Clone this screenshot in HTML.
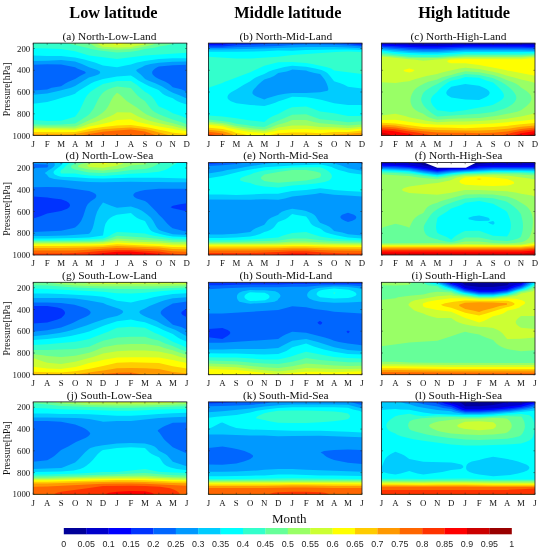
<!DOCTYPE html>
<html><head><meta charset="utf-8"><title>Figure</title>
<style>html,body{margin:0;padding:0;background:#fff}svg{display:block}</style></head>
<body>
<svg width="542" height="550" viewBox="0 0 542 550">
<rect width="542" height="550" fill="#fff"/>
<g font-family="'Liberation Serif', 'Times New Roman', serif" fill="#111">
<text x="113.4" y="17.7" font-size="16.3" font-weight="bold" text-anchor="middle" fill="#000">Low latitude</text>
<text x="287.8" y="17.7" font-size="16.3" font-weight="bold" text-anchor="middle" fill="#000">Middle latitude</text>
<text x="464.1" y="17.7" font-size="16.3" font-weight="bold" text-anchor="middle" fill="#000">High latitude</text>
<g shape-rendering="geometricPrecision">
<rect x="33.2" y="43.1" width="153.6" height="92.4" fill="#0066ff"/>
<path fill="#0099ff" d="M47.2,43.1 186.8,43.1 186.8,64.8 172.8,65.3 158.9,66.5 157.7,66.9 155.1,68.4 153.4,69.9 152.3,71.4 152.1,72.9 152.7,74.4 154.1,75.9 156.1,77.4 158.9,79.1 165.4,81.8 168,83.3 170.1,84.8 172.8,87.2 181,89.3 184.8,90.8 186.8,92 186.8,135.5 33.2,135.5 33.2,90.5 47.2,89.4 51.6,87.8 61.1,86.2 65.7,83.3 68.5,81.8 75.1,79.1 80,75.9 85.9,72.9 84.9,71.4 77.3,68.4 75.1,67.3 61.1,64.6 47.2,64.3 33.2,64.8 33.2,43.1Z"/>
<path fill="#00ccff" d="M47.2,43.1 186.8,43.1 186.8,61.4 172.8,61.8 158.9,62.7 150.6,64 144.9,65.5 142.2,66.9 138.8,68.4 136.1,69.9 136.9,71.4 140.7,74.4 145.1,78.9 148.1,80.4 155.3,83.3 161.7,86.3 169,90.8 172.8,92.7 179.4,95.3 186.8,98.6 186.8,135.5 33.2,135.5 33.2,94.7 47.2,93.4 59.4,90.8 70.9,87.8 75.1,85.9 81.9,81.8 88.9,77.4 94.2,75.9 98.4,74.4 100.2,72.9 99.9,71.4 97.5,69.9 89.1,67.2 81.9,64 75.1,61.5 61.1,60 47.2,60.7 33.2,61.1 33.2,43.1Z"/>
<path fill="#00ffff" d="M47.2,43.1 186.8,43.1 186.8,58.2 172.8,58.2 158.9,59.1 155.3,59.5 144.9,60.9 137,62.5 130.9,64.5 125.5,65.5 117,67.2 103,65.5 94.9,62.5 84.3,59.5 75.1,57.4 61.1,56 47.2,56 33.2,55.6 33.2,43.1ZM130.9,75.5 134.2,77.4 138.5,80.4 144.9,84.1 149.3,86.3 156.8,89.3 158.9,90.3 162.6,93.8 165,95.3 168.5,96.8 172.8,98.2 175,99.7 177.5,101.2 181.2,102.7 186.8,104.4 186.8,135.5 33.2,135.5 33.2,103.7 47.2,101.9 55.5,99.7 61.1,97.9 70.9,95.3 75.1,93.7 76.7,92.3 78.9,90.8 91.2,83.3 94.4,81.8 103,79.1 117,76.4Z"/>
<path fill="#33ffcc" d="M47.2,43.1 186.8,43.1 186.8,52.7 144.9,55.5 117,59.1 89.1,55.4 75.1,51.3 61.1,49.1 47.2,48.4 33.2,48.2 33.2,43.1ZM117,81 130.9,80.9 136.7,84.8 144.9,91.8 148.3,93.8 150.3,95.3 152,96.8 154.4,99.7 157.2,104.2 158.9,106.4 164.5,108.7 167.6,110.2 172.8,113.3 181.4,116.1 186.8,118.5 186.8,135.5 33.2,135.5 33.2,120 47.2,121 61.1,120.7 75.1,116.7 77.9,113.1 79.7,110.2 85.3,98.2 87.2,95.3 90,92.3 91.9,90.8 96.4,87.8 103,84.1Z"/>
<path fill="#66ff99" d="M75.1,43.1 172.8,43.1 171.3,44.6 162.7,46.1 158.9,46.4 155.6,47.6 144.9,49.1 138.7,50.6 130.9,51.7 117,52.4 99.3,50.6 90.8,49.1 89.1,48.2 65.8,43.1ZM117,86.4 130.9,88 137.2,95.3 140.6,98.2 144.9,101.1 150.8,108.7 152.3,110.2 154.3,111.7 158.9,114.2 167.1,117.6 171.2,119.1 180.8,122.1 186.8,124.2 186.8,135.5 33.2,135.5 33.2,124.3 47.2,124.7 61.1,124.5 75.2,123.6 87.1,116.1 89,114.6 90.3,113.1 93.6,108.7 98,99.7 99.7,96.8 102,93.8 103.5,92.3 105.5,90.8 108.3,89.3 112.2,87.8Z"/>
<path fill="#99ff66" d="M103,43.1 155.4,43.1 153.1,44.6 147.8,46.1 140.2,47.6 130.9,49.1 117,49.8 103,48.8 97,47.6 94.1,46.1 91.9,44.6 89.1,43.1ZM117,92.8 118.7,93.8 120.6,95.3 127,101.2 136.4,107.2 144.2,113.1 146.6,114.6 153.4,117.6 158.9,119.6 162.1,120.6 172.8,123.3 186.8,127.2 186.8,135.5 33.2,135.5 33.2,126.2 47.2,126.6 75.1,126.4 79,125.1 95.1,117.6 97.8,116.1 102.2,113.1 105.3,110.2 106.5,108.7 108.5,105.7 111.5,99.7 113.3,96.8 114.5,95.3Z"/>
<path fill="#ccff33" d="M103,43.1 146.7,43.1 144.8,44.6 135.6,46.1 130.9,47.2 117,47.6 103,46.8 101.2,46.1 98.6,44.6 96.8,43.1ZM117,112.3 130.9,112.4 137.2,116.1 140.5,117.6 148.5,120.6 160.6,123.6 167.3,125.1 172.8,126 180.3,128 186.8,129.3 186.8,135.5 33.2,135.5 33.2,127.7 47.2,128 75.1,128.4 81.9,126.6 89.1,123.7 95.4,122.1 99.6,120.6 103,118.9 110.7,116.1 113.7,114.6 116.1,113.1Z"/>
<path fill="#ffff00" d="M117,43.1 127.5,43.1 120.1,44.6 117,44.8 114.7,44.6 108.6,43.1ZM117,120 130.9,119.3 133.8,120.6 138.1,122.1 151.1,125.1 158.9,126.6 172.8,128.8 175.6,129.5 186.8,131.3 186.8,135.5 33.2,135.5 33.2,129.3 75.1,130.1 84.6,128 89.1,126.6 97.4,125.1 103,123.7 110.7,122.1Z"/>
<path fill="#ffcc00" d="M117,125.6 130.9,125.1 144.9,127 150.9,128 158.9,129.8 165.8,131 172.8,132.8 186.8,133.9 186.8,135.5 33.2,135.5 33.2,131.9 61.1,132.2 75.1,132 80.5,131 89.1,129.1 103,127.1Z"/>
<path fill="#ff9900" d="M130.9,127.6 144.9,129.1 147.1,129.5 153.5,131 158.9,132.6 170.3,135.5 33.2,135.5 33.2,134.1 61.1,134.3 75.1,133.9 89.1,131.5 103,129.3 117,128.2Z"/>
<path fill="#ff6600" d="M130.9,129.5 144.9,131.4 152.2,134 157.1,135.5 81.1,135.5 89.1,133.9 103,131.8 117,130.4Z"/>
<path fill="#ff3300" d="M117,135.5 124,135.5Z"/>
</g>
<rect x="33.2" y="43.1" width="153.6" height="92.4" fill="none" stroke="#1a1a1a" stroke-width="0.8"/>
<path d="M33.2,135.5v-1.6M33.2,43.1v1.6M47.2,135.5v-1.6M47.2,43.1v1.6M61.1,135.5v-1.6M61.1,43.1v1.6M75.1,135.5v-1.6M75.1,43.1v1.6M89.1,135.5v-1.6M89.1,43.1v1.6M103,135.5v-1.6M103,43.1v1.6M117,135.5v-1.6M117,43.1v1.6M130.9,135.5v-1.6M130.9,43.1v1.6M144.9,135.5v-1.6M144.9,43.1v1.6M158.9,135.5v-1.6M158.9,43.1v1.6M172.8,135.5v-1.6M172.8,43.1v1.6M186.8,135.5v-1.6M186.8,43.1v1.6M33.2,48.5h1.6M186.8,48.5h-1.6M33.2,70.3h1.6M186.8,70.3h-1.6M33.2,92h1.6M186.8,92h-1.6M33.2,113.8h1.6M186.8,113.8h-1.6M33.2,135.5h1.6M186.8,135.5h-1.6" stroke="#262626" stroke-width="0.5" fill="none"/>
<text x="109.4" y="39.9" font-size="11.4" text-anchor="middle">(a) North-Low-Land</text>
<text x="33.2" y="146.8" font-size="8.8" text-anchor="middle">J</text>
<text x="47.2" y="146.8" font-size="8.8" text-anchor="middle">F</text>
<text x="61.1" y="146.8" font-size="8.8" text-anchor="middle">M</text>
<text x="75.1" y="146.8" font-size="8.8" text-anchor="middle">A</text>
<text x="89.1" y="146.8" font-size="8.8" text-anchor="middle">M</text>
<text x="103" y="146.8" font-size="8.8" text-anchor="middle">J</text>
<text x="117" y="146.8" font-size="8.8" text-anchor="middle">J</text>
<text x="130.9" y="146.8" font-size="8.8" text-anchor="middle">A</text>
<text x="144.9" y="146.8" font-size="8.8" text-anchor="middle">S</text>
<text x="158.9" y="146.8" font-size="8.8" text-anchor="middle">O</text>
<text x="172.8" y="146.8" font-size="8.8" text-anchor="middle">N</text>
<text x="186.8" y="146.8" font-size="8.8" text-anchor="middle">D</text>
<text x="30.2" y="51.5" font-size="8.8" text-anchor="end">200</text>
<text x="30.2" y="73.3" font-size="8.8" text-anchor="end">400</text>
<text x="30.2" y="95" font-size="8.8" text-anchor="end">600</text>
<text x="30.2" y="116.8" font-size="8.8" text-anchor="end">800</text>
<text x="30.2" y="138.5" font-size="8.8" text-anchor="end">1000</text>
<text transform="translate(9.6,89.3) rotate(-90)" font-size="9.7" text-anchor="middle">Pressure[hPa]</text>
<g shape-rendering="geometricPrecision">
<rect x="208.4" y="43.1" width="153.6" height="92.4" fill="#0000ff"/>
<path fill="#0033ff" d="M236.3,43.1 355,43.1 362,44.1 362,135.5 208.4,135.5 208.4,44.8 222.4,44.7Z"/>
<path fill="#0066ff" d="M264.3,44.1 271.2,43.1 341.1,43.1 353.2,44.6 362,45.4 362,135.5 208.4,135.5 208.4,46.4 222.4,46.5 236.3,45.3 256.6,44.6Z"/>
<path fill="#0099ff" d="M278.2,45.9 292.2,44.9 306.1,44.6 320.1,44.6 334.1,44.8 348,45.5 362,46.6 362,135.5 208.4,135.5 208.4,48 222.4,48 236.3,47.2 264.3,46.6Z"/>
<path fill="#00ccff" d="M306.1,47.1 334.1,46.9 348,47.4 362,48.2 362,135.5 208.4,135.5 208.4,49.6 222.4,49.6 264.3,48.6ZM291.2,69.9 286.6,71.4 278.2,73.1 274,75.9 270.6,77.4 264.3,79.5 261.4,81.8 258.1,84.8 253.9,89.3 252.9,90.8 252.4,92.3 252.6,93.8 254.1,95.3 256.9,96.8 264.3,99.5 267.1,98.2 278.2,94.9 285.1,93.8 292.2,92.9 306.1,93 320.1,92.2 327.6,90.8 328.4,89.3 327.7,86.3 326.6,83.3 325.2,80.4 324.2,78.9 321.9,75.9 320.1,74.1 314.6,72.9 308.7,71.4 306.1,70.5 292.2,69.6Z"/>
<path fill="#00ffff" d="M306.1,49.9 334.1,49.4 348,49.5 362,50 362,88.5 348,86.7 344.2,84.8 340.4,83.3 334.1,81.3 330,75.9 327.3,72.9 325,71.4 321.5,69.9 315.2,68.4 306.1,66.7 292.2,65.8 284.4,66.9 273,69.9 268.9,71.4 264.3,74 259.1,75.9 255.7,77.4 253.2,78.9 250.3,81.3 243.8,84.8 236.6,89.3 231.1,92.3 229.2,93.8 228,95.3 227.5,96.8 227.6,98.2 228.7,99.7 230.9,101.2 236.3,103.2 250.3,105 264.3,105.9 270.7,104.2 275.2,102.7 278.6,101.2 283.6,99.7 292.2,96.8 306.1,97.2 313.3,98.2 321,99.7 334.1,103.2 348,105 362,105 362,135.5 208.4,135.5 208.4,51.8 236.3,51.8 264.3,51.3 278.2,50.6 292.2,50.8Z"/>
<path fill="#33ffcc" d="M348,51.6 362,51.9 362,74 334.1,70.4 331.2,68.4 326.1,66.9 312.1,64 306.1,63 292.2,62.1 278.2,62.2 264.3,65.8 250.3,72.2 240.2,75.9 236.3,77.6 228.4,80.4 224.7,81.8 222.4,83.1 208.4,87.7 208.4,56.7 236.3,58.5 250.3,58.5 278.2,56.7 292.2,54.9 335.7,52ZM292.2,107.2 306.1,106.4 313.2,108.7 320.1,111.5 334.1,113.2 348,115.9 362,115.9 362,135.5 208.4,135.5 208.4,115.4 222.4,116.4 236.3,118.2 250.3,120.5 264.3,121.9 267.9,119.1 270.2,117.6 273.1,116.1 278.2,114.1 285,110.2 288.2,108.7Z"/>
<path fill="#66ff99" d="M306.1,114.3 320.1,119.3 334.1,120.5 348,122.3 362,121.3 362,135.5 208.4,135.5 208.4,119.5 222.4,121.1 229.5,122.1 236.3,123.7 246.2,125.1 250.3,125.8 264.3,127.1 271.5,123.6 292.2,114.8Z"/>
<path fill="#99ff66" d="M292.2,119.9 306.1,119.9 313.8,122.1 320.1,123.2 348,125.6 362,124.5 362,135.5 208.4,135.5 208.4,121.5 222.4,123 226,123.6 236.3,125.9 250.3,128.1 264.3,129.4 269.4,128 278.2,124.5 282.4,123.6 287.3,122.1Z"/>
<path fill="#ccff33" d="M212.3,123.6 222.4,124.5 236.3,127.8 250.3,129.9 264.3,131 272.1,129.5 278.2,127.6 285.9,126.6 292.2,125.4 306.1,125.4 320.1,127 334.1,127.3 348,128.1 362,126.8 362,135.5 208.4,135.5 208.4,123.2Z"/>
<path fill="#ffff00" d="M210.3,125.1 222.4,126.2 228.3,128 243.9,131 250.3,132 264.3,133.1 275.4,131 278.2,130.3 292.2,129.2 306.1,129.1 320.1,129.8 334.1,129.6 348,130.1 362,128.5 362,135.5 208.4,135.5 208.4,124.9Z"/>
<path fill="#ffcc00" d="M211.9,128 222.4,129.1 231.3,131 236.3,132.9 243.2,134 248.7,135.5 208.4,135.5 208.4,127.7ZM362,130.5 362,135.5 267.7,135.5 278.2,133.3 292.2,132.6 306.1,132.6 320.1,133.2 334.1,131.9 348,132Z"/>
<path fill="#ff9900" d="M220.6,131 222.4,131.2 227.4,132.5 231.5,134 234.9,135.5 208.4,135.5 208.4,129.8ZM348,133.8 362,132.7 362,135.5 328.7,135.5 334.1,134.6 341.2,134ZM292.2,135.3 307.1,135.5 290.4,135.5Z"/>
<path fill="#ff6600" d="M215.2,132.5 222.4,133.5 227.5,135.5 208.4,135.5 208.4,131.8ZM362,135.1 362,135.5 348,135.5Z"/>
<path fill="#ff3300" d="M208.8,134 217.7,135.5 208.4,135.5 208.4,134Z"/>
</g>
<rect x="208.4" y="43.1" width="153.6" height="92.4" fill="none" stroke="#1a1a1a" stroke-width="0.8"/>
<path d="M208.4,135.5v-1.6M208.4,43.1v1.6M222.4,135.5v-1.6M222.4,43.1v1.6M236.3,135.5v-1.6M236.3,43.1v1.6M250.3,135.5v-1.6M250.3,43.1v1.6M264.3,135.5v-1.6M264.3,43.1v1.6M278.2,135.5v-1.6M278.2,43.1v1.6M292.2,135.5v-1.6M292.2,43.1v1.6M306.1,135.5v-1.6M306.1,43.1v1.6M320.1,135.5v-1.6M320.1,43.1v1.6M334.1,135.5v-1.6M334.1,43.1v1.6M348,135.5v-1.6M348,43.1v1.6M362,135.5v-1.6M362,43.1v1.6M208.4,48.5h1.6M362,48.5h-1.6M208.4,70.3h1.6M362,70.3h-1.6M208.4,92h1.6M362,92h-1.6M208.4,113.8h1.6M362,113.8h-1.6M208.4,135.5h1.6M362,135.5h-1.6" stroke="#262626" stroke-width="0.5" fill="none"/>
<text x="285.8" y="39.9" font-size="11.4" text-anchor="middle">(b) North-Mid-Land</text>
<text x="208.4" y="146.8" font-size="8.8" text-anchor="middle">J</text>
<text x="222.4" y="146.8" font-size="8.8" text-anchor="middle">F</text>
<text x="236.3" y="146.8" font-size="8.8" text-anchor="middle">M</text>
<text x="250.3" y="146.8" font-size="8.8" text-anchor="middle">A</text>
<text x="264.3" y="146.8" font-size="8.8" text-anchor="middle">M</text>
<text x="278.2" y="146.8" font-size="8.8" text-anchor="middle">J</text>
<text x="292.2" y="146.8" font-size="8.8" text-anchor="middle">J</text>
<text x="306.1" y="146.8" font-size="8.8" text-anchor="middle">A</text>
<text x="320.1" y="146.8" font-size="8.8" text-anchor="middle">S</text>
<text x="334.1" y="146.8" font-size="8.8" text-anchor="middle">O</text>
<text x="348" y="146.8" font-size="8.8" text-anchor="middle">N</text>
<text x="362" y="146.8" font-size="8.8" text-anchor="middle">D</text>
<g shape-rendering="geometricPrecision">
<rect x="381.4" y="43.1" width="153.6" height="92.4" fill="#0000cc"/>
<path fill="#0000ff" d="M389.3,44.6 423.3,46 437.3,46 451.2,45.6 465.2,44.9 521,44.9 535,45.3 535,135.5 381.4,135.5 381.4,44.2Z"/>
<path fill="#0033ff" d="M391.6,46.1 409.3,47 423.3,47.5 437.3,47.5 451.2,47.1 465.2,46.4 521,46.4 535,46.9 535,135.5 381.4,135.5 381.4,45.6Z"/>
<path fill="#0066ff" d="M394.5,47.6 409.3,48.5 423.3,49 437.3,49 451.2,48.5 465.2,47.8 521,47.8 535,48.3 535,135.5 381.4,135.5 381.4,46.8Z"/>
<path fill="#0099ff" d="M395.4,49 409.3,49.9 423.3,50.4 437.3,50.4 465.2,49.2 521,49.2 535,49.6 535,135.5 381.4,135.5 381.4,48.1Z"/>
<path fill="#00ccff" d="M395.4,50.5 409.3,51.4 423.3,51.9 437.3,51.9 465.2,50.6 521,50.6 535,50.9 535,135.5 381.4,135.5 381.4,49.3Z"/>
<path fill="#00ffff" d="M394.5,52 409.3,53.1 423.3,53.4 437.3,53.4 465.2,52 535,52 535,135.5 381.4,135.5 381.4,50.6ZM461.3,84.8 451.2,86.7 448.3,89.3 447,90.8 446.3,92.3 446.4,93.8 447.4,95.3 451.2,97.4 465.2,99.4 479.1,99.9 483.4,98.2 486.5,96.8 488.5,95.3 489.5,93.8 489.6,92.3 488.7,90.8 486.8,89.3 483.9,87.8 479.1,85.7 465.2,84Z"/>
<path fill="#33ffcc" d="M381.5,52 395.4,53.7 409.3,54.8 423.3,55.1 437.3,55.1 451.2,54.4 465.2,53.4 521,53.4 535,53.2 535,135.5 381.4,135.5ZM463.7,77.4 459.4,78.9 451.2,80.8 449.2,81.8 446.8,83.3 442.8,86.3 439.5,89.3 437.3,91.7 433.3,95.3 432.1,96.8 431.3,98.2 430.8,99.7 430.9,101.2 431.3,102.7 433,105.7 437.3,110.2 451.2,111.9 465.3,110.2 472.5,108.7 489.4,105.7 493.1,104.7 499.5,101.2 501.7,99.7 503.2,98.2 503.9,96.8 503.9,95.3 503.5,93.8 502.7,92.3 501.6,90.8 499,87.8 495.8,84.8 493.1,82.6 486.3,80.4 479.1,77.7 465.2,76.9Z"/>
<path fill="#66ff99" d="M381.7,53.5 392.8,55 409.3,56.7 423.3,56.9 437.3,56.9 465.2,54.9 521,54.9 535,54.4 535,135.5 381.4,135.5 381.4,53.5ZM463.6,74.4 451.2,77.6 447.3,78.9 443.8,80.4 437.3,84 432.6,86.3 427.6,89.3 425.4,90.8 423.8,92.3 423.3,93.1 422.2,95.3 421.2,98.2 421.2,99.7 421.5,101.2 422.1,102.7 423.8,105.7 426.5,108.7 431.6,113.1 433.8,114.6 436.4,116.1 437.3,116.5 479.1,113.8 493.1,112 504.1,108.7 507.6,107.2 512.3,104.2 513.9,102.7 515.1,101.2 515.9,99.7 516.3,98.2 516.2,96.8 515.8,95.3 515,93.8 512.8,90.8 509.7,87.8 505.8,84.8 501,81.8 498.2,80.4 493.1,78.2 490.4,77.4 479.1,74.9 465.2,74Z"/>
<path fill="#99ff66" d="M395.4,56.4 409.3,57.8 423.3,58.1 437.3,58.1 451.2,57.1 465.2,56.5 521,56.5 535,55.6 535,135.5 381.4,135.5 381.4,55.2ZM464.6,71.4 457.8,72.9 451.2,74.9 446.9,75.9 441.7,77.4 437.3,79.4 428.3,81.8 424.8,83.3 419,86.3 416.8,87.8 415,89.3 413.7,90.8 412,93.8 410.9,96.8 410.6,98.2 410.4,99.7 410.7,102.7 411.8,105.7 412.7,107.2 414,108.7 415.9,110.2 418.3,111.7 423.3,113.8 426.5,116.1 429.3,117.6 434.1,119.1 437.3,119.7 451.2,118.7 479.1,117.9 495.6,116.1 503.6,114.6 517,111.7 521,110.2 527,105.7 529.9,102.7 530.8,101.2 531.3,99.7 531.5,98.2 531.2,96.8 530.6,95.3 529.5,93.8 528,92.3 526.1,90.8 521,87.6 519.7,86.3 517.7,84.8 515.1,83.3 511.5,81.8 507.1,80.3 500.6,77.4 493.1,74.9 479.1,72.2 465.2,71.3Z"/>
<path fill="#ccff33" d="M381.9,56.5 409.3,59.3 413.5,59.5 423.3,60.7 437.3,59.6 451.2,58.2 465.2,57.5 521,57.5 535,56.7 535,83.1 531.2,81.8 521,79.5 519.5,78.9 514.1,77.4 507.1,75.8 503.4,74.4 498.4,72.9 493.1,71.7 479.1,69.1 465.2,67.7 459.8,68.4 446,71.4 440.2,72.9 437.3,74 426.6,75.9 415.6,78.9 411.1,80.4 409.3,81.3 404,81.8 395.4,83.1 381.4,82.2 381.4,56.5ZM535,112.9 535,135.5 381.4,135.5 381.4,115.5 395.4,113.7 405.2,116.1 409.9,117.6 423.3,120.1 425.1,120.6 437.3,122.3 451.2,121.6 465.2,121.6 479.1,121 493.1,120.1 507.1,118.7 521,116.5 530,114.6Z"/>
<path fill="#ffff00" d="M535,58 535,75.8 528.4,74.4 507.1,70.4 505.6,69.9 498,68.4 479.1,65 465.2,63.2 451.2,63.3 448.5,62.5 447,61 450.4,59.5 451.2,59.4 465.2,59.1 521,59.2ZM409.3,68.4 414.6,69.9 413,71.4 409.3,72.4 404.6,71.4 403.4,69.9ZM395.4,119.7 410.3,122.1 423.3,123.8 437.3,124.8 465.2,124.7 493.1,123.4 521,121 535,119.2 535,135.5 381.4,135.5 381.4,120.1Z"/>
<path fill="#ffcc00" d="M395.4,123.4 423.3,126.9 437.3,127.5 451.2,127.7 465.2,128.2 493.1,127 507.1,125.9 521,124.3 535,123 535,135.5 381.4,135.5 381.4,122.8Z"/>
<path fill="#ff9900" d="M388.2,125.1 395.4,125.5 409.3,127.7 423.3,129.2 437.3,130 465.2,130.6 479.1,130.6 493.1,130 507.1,128.8 521,126.8 535,125.5 535,135.5 381.4,135.5 381.4,124.7Z"/>
<path fill="#ff6600" d="M382.9,126.6 395.4,127.4 409.3,129.7 423.3,131.3 437.3,132.4 451.2,132.8 465.2,132.8 479.1,133.3 493.1,132.8 507.1,131.4 521,129 535,127.5 535,135.5 381.4,135.5 381.4,126.5Z"/>
<path fill="#ff3300" d="M395.4,129.2 409.3,131.5 416.7,132.5 432.6,135.5 381.4,135.5 381.4,128.3ZM535,129.3 535,135.5 500.1,135.5 507.1,134.2 513.2,132.5 520.7,131Z"/>
<path fill="#ff0000" d="M392.8,131 400.9,132.5 410.6,134 414.9,135.5 381.4,135.5 381.4,130.1ZM535,131 535,135.5 513.1,135.5 521,133.2Z"/>
<path fill="#cc0000" d="M381.9,132.5 388.8,134 391.9,135.5 381.4,135.5 381.4,132.5ZM535,133.2 535,135.5 523.8,135.5Z"/>
</g>
<rect x="381.4" y="43.1" width="153.6" height="92.4" fill="none" stroke="#1a1a1a" stroke-width="0.8"/>
<path d="M381.4,135.5v-1.6M381.4,43.1v1.6M395.4,135.5v-1.6M395.4,43.1v1.6M409.3,135.5v-1.6M409.3,43.1v1.6M423.3,135.5v-1.6M423.3,43.1v1.6M437.3,135.5v-1.6M437.3,43.1v1.6M451.2,135.5v-1.6M451.2,43.1v1.6M465.2,135.5v-1.6M465.2,43.1v1.6M479.1,135.5v-1.6M479.1,43.1v1.6M493.1,135.5v-1.6M493.1,43.1v1.6M507.1,135.5v-1.6M507.1,43.1v1.6M521,135.5v-1.6M521,43.1v1.6M535,135.5v-1.6M535,43.1v1.6M381.4,48.5h1.6M535,48.5h-1.6M381.4,70.3h1.6M535,70.3h-1.6M381.4,92h1.6M535,92h-1.6M381.4,113.8h1.6M535,113.8h-1.6M381.4,135.5h1.6M535,135.5h-1.6" stroke="#262626" stroke-width="0.5" fill="none"/>
<text x="458.5" y="39.9" font-size="11.4" text-anchor="middle">(c) North-High-Land</text>
<text x="381.4" y="146.8" font-size="8.8" text-anchor="middle">J</text>
<text x="395.4" y="146.8" font-size="8.8" text-anchor="middle">F</text>
<text x="409.3" y="146.8" font-size="8.8" text-anchor="middle">M</text>
<text x="423.3" y="146.8" font-size="8.8" text-anchor="middle">A</text>
<text x="437.3" y="146.8" font-size="8.8" text-anchor="middle">M</text>
<text x="451.2" y="146.8" font-size="8.8" text-anchor="middle">J</text>
<text x="465.2" y="146.8" font-size="8.8" text-anchor="middle">J</text>
<text x="479.1" y="146.8" font-size="8.8" text-anchor="middle">A</text>
<text x="493.1" y="146.8" font-size="8.8" text-anchor="middle">S</text>
<text x="507.1" y="146.8" font-size="8.8" text-anchor="middle">O</text>
<text x="521" y="146.8" font-size="8.8" text-anchor="middle">N</text>
<text x="535" y="146.8" font-size="8.8" text-anchor="middle">D</text>
<g shape-rendering="geometricPrecision">
<rect x="33.2" y="162.6" width="153.6" height="92.4" fill="#0033ff"/>
<path fill="#0066ff" d="M47.2,162.6 186.8,162.6 186.8,203.3 180.1,204.3 172.8,205.8 170.6,207.3 172.8,208.2 175,208.8 186.8,211.2 186.8,255 33.2,255 33.2,218.4 40.4,216.3 47.2,213.4 61.1,211.1 67.2,208.8 69.2,207.3 70,205.8 69.8,204.3 68.7,202.8 66.5,201.3 61.1,199.2 53.8,198.4 47.2,197.4 33.2,196.5 33.2,162.6Z"/>
<path fill="#0099ff" d="M47.2,162.6 186.8,162.6 186.8,188.8 158.9,188.8 144.9,190 140.1,190.9 135.3,192.4 133.6,193.9 133.3,195.4 134.3,196.9 136.8,198.4 144.9,201.1 147.5,202.8 156.4,211.8 158.9,214.7 162.1,217.7 167.4,223.7 170.6,226.7 172.6,228.2 186.8,231.8 186.8,255 33.2,255 33.2,231.9 61.1,230.7 72.5,228.2 75.1,227.4 77.7,225.2 79.1,223.7 81.2,220.7 83.2,216.3 86.1,207.3 87.7,204.3 90.8,201.3 94.9,198.4 96.1,196.9 96.3,195.4 95.5,193.9 93,192.4 89.1,191 68,187.9 61.1,187.3 47.2,187 33.2,187.3 33.2,167.9 47.2,167.5 47.7,167.1 48.4,165.6 47.2,164.4 33.2,164 33.2,162.6Z"/>
<path fill="#00ccff" d="M61.1,162.6 186.8,162.6 186.8,182.3 172.8,182.3 158.9,181.9 144.9,181.9 130.9,181.7 103,182.3 89.1,181.9 75.1,181 61.1,179.8 54.2,179 49.2,177.5 47.8,176 47.2,175 44.8,173 48.9,170.1 51.5,168.6 53.4,167.1 54.7,165.6 54.8,164.1 54.1,162.6ZM103,202.4 111.1,205.8 117,207.7 130.9,206.4 137.8,208.8 141,210.3 143.4,211.8 147.4,214.8 150.8,217.7 153,220.7 156.3,226.7 157.4,228.2 158.9,229.8 162.5,231.2 172.8,234.3 186.8,235.1 186.8,255 33.2,255 33.2,236.1 47.2,236.1 66,235.6 87.3,234.1 89.1,233.8 90.2,232.6 91.2,231.2 92.6,228.2 93.5,225.2 95.6,216.3 97.1,211.8 99.5,207.3Z"/>
<path fill="#00ffff" d="M75.1,162.6 186.8,162.6 186.8,178.4 158.9,177.8 130.9,177.8 103,178.6 89.1,178.3 75.1,177.3 61.1,176.8 58.2,176 54.7,174.5 53.5,173 53.7,171.5 55,170.1 61,165.6 63.7,162.6ZM130.9,213 134.7,216.3 136.8,217.7 139.7,219.2 144.9,221.1 145.7,222.2 149.1,228.2 150.1,229.7 151.8,231.2 154.8,232.6 160,234.1 166.6,235.6 172.8,236.6 186.8,237.1 186.8,255 33.2,255 33.2,238.4 47.2,238.4 75.1,238 89.1,237.4 92.8,237.1 103,235.6 104.6,226.7 105.5,223.7 107.4,220.7 108.7,219.2 110.5,217.7 113,216.3 116.8,214.8Z"/>
<path fill="#33ffcc" d="M75.1,162.6 177.5,162.6 175.5,164.1 172.8,165.5 168.1,168.6 165,170.1 158.9,171.8 146.4,173 130.9,173.7 122.5,174.5 103,176 89.1,175.5 80.8,174.5 75.1,173.6 61.1,173.4 60.7,173 60.4,171.5 61.1,170.1 63.4,168.6 66.3,165.6 68.4,164.1 70,162.6ZM117,231.9 127.8,232.6 144.9,233.4 146.4,234.1 152.5,235.6 162.2,237.1 172.8,238.4 186.8,238.8 186.8,255 33.2,255 33.2,239.9 61.1,239.8 75.1,239.7 89.1,239.3 103,238.4 107.1,237.1 110.1,235.6 112.4,234.1 115.8,232.6Z"/>
<path fill="#66ff99" d="M75.1,163.5 77.1,162.6 161.7,162.6 158,164.1 155.4,165.6 152.3,167.1 147.4,168.6 144.9,169.1 130.9,170 117,172 103,173.1 89.1,172.4 83.9,171.5 75.1,169.6 72.5,168.6 70.8,167.1 71.5,165.6ZM117,235.7 144.9,237.5 172.8,240.2 186.8,240.4 186.8,255 33.2,255 33.2,241.1 61.1,241.1 89.1,240.8 103,240.2 109.4,238.6 113.7,237.1Z"/>
<path fill="#99ff66" d="M89.1,162.6 147.7,162.6 144.9,164.5 130.9,165.5 126.5,167.1 120,168.6 117,169.1 103,170.5 89.1,169.5 84.2,168.6 78.2,167.1 78,165.6 81.5,164.1 87.1,162.6ZM117,238.4 142.8,240.1 158.9,240.8 172.8,241.9 186.8,242.1 186.8,255 33.2,255 33.2,242.2 89.1,242 103,241.5 111.2,240.1Z"/>
<path fill="#ccff33" d="M89.1,164.1 94.4,162.6 124.5,162.6 121.8,164.1 117,165.8 103,167.7 89.1,166.9 86.9,165.6ZM117,240.6 130.9,241.5 158.9,242.6 172.8,243.5 186.8,243.7 186.8,255 33.2,255 33.2,243.3 89.1,243.1 103,242.6 111.9,241.6Z"/>
<path fill="#ffff00" d="M103,162.6 110,162.6 103,164.3 102.2,164.1 101,162.6ZM117,242.4 130.9,243.3 158.9,244.2 172.8,245.2 186.8,245.4 186.8,255 33.2,255 33.2,244.5 89.1,244.3 103,243.9Z"/>
<path fill="#ffcc00" d="M117,244.2 144.9,245.5 158.9,245.9 172.8,247 186.8,247.2 186.8,255 33.2,255 33.2,246.1 61.1,246.1 89.1,245.7 103,245.4Z"/>
<path fill="#ff9900" d="M89.1,247.5 103,247 117,246.1 158.9,247.5 172.8,249 186.8,249.3 186.8,255 33.2,255 33.2,248.1 61.1,248.1Z"/>
<path fill="#ff6600" d="M103,248.8 117,248 130.9,248.3 158.9,249.4 172.8,251.2 186.8,251.7 186.8,255 33.2,255 33.2,250.6 61.1,250.6 75.1,250.4Z"/>
<path fill="#ff3300" d="M117,249.9 130.9,249.9 158.9,251.5 172.8,253.7 186.8,254.4 186.8,255 33.2,255 33.2,253.4 61.1,253.4 75.1,253 89.1,252.1 103,250.8Z"/>
<path fill="#ff0000" d="M117,251.8 130.9,251.6 137,252 154.8,253.5 158.9,254.1 162.4,255 84.4,255Z"/>
</g>
<rect x="33.2" y="162.6" width="153.6" height="92.4" fill="none" stroke="#1a1a1a" stroke-width="0.8"/>
<path d="M33.2,255v-1.6M33.2,162.6v1.6M47.2,255v-1.6M47.2,162.6v1.6M61.1,255v-1.6M61.1,162.6v1.6M75.1,255v-1.6M75.1,162.6v1.6M89.1,255v-1.6M89.1,162.6v1.6M103,255v-1.6M103,162.6v1.6M117,255v-1.6M117,162.6v1.6M130.9,255v-1.6M130.9,162.6v1.6M144.9,255v-1.6M144.9,162.6v1.6M158.9,255v-1.6M158.9,162.6v1.6M172.8,255v-1.6M172.8,162.6v1.6M186.8,255v-1.6M186.8,162.6v1.6M33.2,168h1.6M186.8,168h-1.6M33.2,189.8h1.6M186.8,189.8h-1.6M33.2,211.5h1.6M186.8,211.5h-1.6M33.2,233.3h1.6M186.8,233.3h-1.6M33.2,255h1.6M186.8,255h-1.6" stroke="#262626" stroke-width="0.5" fill="none"/>
<text x="109.4" y="159.4" font-size="11.4" text-anchor="middle">(d) North-Low-Sea</text>
<text x="33.2" y="266.3" font-size="8.8" text-anchor="middle">J</text>
<text x="47.2" y="266.3" font-size="8.8" text-anchor="middle">F</text>
<text x="61.1" y="266.3" font-size="8.8" text-anchor="middle">M</text>
<text x="75.1" y="266.3" font-size="8.8" text-anchor="middle">A</text>
<text x="89.1" y="266.3" font-size="8.8" text-anchor="middle">M</text>
<text x="103" y="266.3" font-size="8.8" text-anchor="middle">J</text>
<text x="117" y="266.3" font-size="8.8" text-anchor="middle">J</text>
<text x="130.9" y="266.3" font-size="8.8" text-anchor="middle">A</text>
<text x="144.9" y="266.3" font-size="8.8" text-anchor="middle">S</text>
<text x="158.9" y="266.3" font-size="8.8" text-anchor="middle">O</text>
<text x="172.8" y="266.3" font-size="8.8" text-anchor="middle">N</text>
<text x="186.8" y="266.3" font-size="8.8" text-anchor="middle">D</text>
<text x="30.2" y="171" font-size="8.8" text-anchor="end">200</text>
<text x="30.2" y="192.8" font-size="8.8" text-anchor="end">400</text>
<text x="30.2" y="214.5" font-size="8.8" text-anchor="end">600</text>
<text x="30.2" y="236.3" font-size="8.8" text-anchor="end">800</text>
<text x="30.2" y="258" font-size="8.8" text-anchor="end">1000</text>
<text transform="translate(9.6,208.8) rotate(-90)" font-size="9.7" text-anchor="middle">Pressure[hPa]</text>
<g shape-rendering="geometricPrecision">
<rect x="208.4" y="162.6" width="153.6" height="92.4" fill="#0033ff"/>
<path fill="#0066ff" d="M222.4,163.1 225.9,162.6 362,162.6 362,255 208.4,255 208.4,164Z"/>
<path fill="#0099ff" d="M236.3,164 245.6,162.6 352.7,162.6 362,163.8 362,255 208.4,255 208.4,165.9 222.4,165.3ZM346.4,213.3 342.1,214.8 340.5,216.3 340.5,217.7 341.9,219.2 344.8,220.7 348,222 352.4,220.7 355.3,219.2 356.3,217.7 356,216.3 354,214.8 348,212.8Z"/>
<path fill="#00ccff" d="M264.3,164 278.2,162.6 327.1,162.6 334.1,163.6 341.2,165.6 348,168.2 362,170.8 362,196.6 348,195.6 334.1,194.8 320.1,192.9 315,193.9 306.1,195.1 292.2,196.5 284.9,198.4 278.2,199.8 264.3,199.3 250.3,199.7 208.4,199.4 208.4,173.6 222.4,171.3 227.2,170.1 236.3,168.7 245.2,167.1ZM292.2,208.8 302.9,210.3 306.1,211 311.6,213.3 314.1,214.8 315.6,216.3 318.5,220.7 320.1,222.8 326.4,225.2 329.4,226.7 331.3,228.2 334.1,231.1 342.3,232.6 348,234.3 362,235.6 362,255 208.4,255 208.4,234.5 222.4,234.5 231.1,234.1 236.3,233.8 250.3,231.9 253.1,229.7 255.7,228.2 264.3,224.7 267.3,220.7 268.9,219.2 271.1,217.7 278.2,214.7 279.7,213.3 281.9,211.8 286,210.3Z"/>
<path fill="#00ffff" d="M292.2,165.5 320.1,164.5 326.1,165.6 331.6,167.1 334.1,168.3 338.7,170.1 344.8,171.5 348,172.6 350.1,173 362,174.6 362,191.7 347.4,190.9 334.1,189.9 331.4,189.4 320.1,188.2 306.1,190 292.2,191 284.1,192.4 278.2,193.7 264.3,193.7 250.3,194.5 236.3,194.9 222.4,194.5 208.4,194.5 208.4,178.3 222.4,176 240.3,171.5 250.3,169.5 264.3,167.3ZM292.2,213.9 295.4,214.8 306.1,216.6 308.3,219.2 311,223.7 312.6,225.2 315.4,226.7 320.1,228.4 322,229.7 323.6,231.2 326,232.6 331,234.1 337.3,235.6 345.2,237.1 348,237.5 362,238.4 362,255 208.4,255 208.4,238 222.4,238 236.3,237.6 250.3,236.6 255.2,235.6 260,234.1 264.3,232 267.2,231.2 270.7,229.7 272.9,228.2 274.4,226.7 276.6,223.7 278.2,222 285.3,219.2 287.7,217.7Z"/>
<path fill="#33ffcc" d="M292.2,167.6 306.1,167.3 320.1,167.3 323.6,168.6 326.5,170.1 328.7,171.5 330.3,173 331.4,174.5 331.9,176 331.7,177.5 330.9,179 328.9,180.5 324.5,182 315.8,183.5 306.1,184.6 292.2,185.6 278.2,187.4 264.3,186.4 255.6,185 251.5,183.5 250.3,182.9 244.6,182 240.3,180.5 239.8,179 241.7,177.5 245.6,176 250.3,174.6 253.8,173 259.4,171.5 264.3,170.6 268.2,170.1ZM306.1,232 311.9,234.1 320.1,236.5 322.7,237.1 332.7,238.6 348,239.8 362,240.2 362,255 208.4,255 208.4,240.2 236.3,240 250.3,239.4 278.2,237.4 283,235.6 292.2,232.9Z"/>
<path fill="#66ff99" d="M292.2,170 306.3,170.1 315.6,171.5 320.1,172.8 321.1,174.5 320.9,176 320.1,177.3 319.7,177.5 313.6,179 306.1,180.4 278.2,182.8 271,182 264.3,180.9 261.3,179 260.9,177.5 262.4,176 264.4,174.5 278.2,171.9ZM292.2,238.4 306.1,238.4 318.9,240.1 334.1,241.1 362,241.7 362,255 208.4,255 208.4,241.7 236.3,241.7 264.3,241.1 278.2,240.5 282.4,240.1Z"/>
<path fill="#99ff66" d="M292.2,241.5 306.1,241.5 320.1,242.3 334.1,242.7 362,243 362,255 208.4,255 208.4,243 264.3,242.8 278.2,242.4Z"/>
<path fill="#ccff33" d="M222.4,244 264.3,244 278.2,243.8 292.2,243.3 306.1,243.3 320.1,243.8 348,244.2 362,244.2 362,255 208.4,255 208.4,244Z"/>
<path fill="#ffff00" d="M222.4,245.2 278.2,245.2 292.2,244.8 306.1,244.8 320.1,245.2 362,245.5 362,255 208.4,255 208.4,245.2Z"/>
<path fill="#ffcc00" d="M222.4,246.6 278.2,246.6 292.2,246.2 306.1,246.2 334.1,246.8 362,247 362,255 208.4,255 208.4,246.6Z"/>
<path fill="#ff9900" d="M222.4,248.5 278.2,248.3 292.2,247.7 306.1,247.7 334.1,248.6 362,248.8 362,255 208.4,255 208.4,248.5Z"/>
<path fill="#ff6600" d="M264.3,250.3 278.2,250.1 292.2,249.4 306.1,249.4 334.1,250.6 362,250.8 362,255 208.4,255 208.4,250.6 250.3,250.6Z"/>
<path fill="#ff3300" d="M292.2,251.2 306.1,251.2 320.1,252.3 334.1,253 348,253.4 362,253.4 362,255 208.4,255 208.4,253 250.3,253 278.2,252.1Z"/>
<path fill="#ff0000" d="M292.2,253.4 306.1,253.4 316.6,255 271.2,255Z"/>
</g>
<rect x="208.4" y="162.6" width="153.6" height="92.4" fill="none" stroke="#1a1a1a" stroke-width="0.8"/>
<path d="M208.4,255v-1.6M208.4,162.6v1.6M222.4,255v-1.6M222.4,162.6v1.6M236.3,255v-1.6M236.3,162.6v1.6M250.3,255v-1.6M250.3,162.6v1.6M264.3,255v-1.6M264.3,162.6v1.6M278.2,255v-1.6M278.2,162.6v1.6M292.2,255v-1.6M292.2,162.6v1.6M306.1,255v-1.6M306.1,162.6v1.6M320.1,255v-1.6M320.1,162.6v1.6M334.1,255v-1.6M334.1,162.6v1.6M348,255v-1.6M348,162.6v1.6M362,255v-1.6M362,162.6v1.6M208.4,168h1.6M362,168h-1.6M208.4,189.8h1.6M362,189.8h-1.6M208.4,211.5h1.6M362,211.5h-1.6M208.4,233.3h1.6M362,233.3h-1.6M208.4,255h1.6M362,255h-1.6" stroke="#262626" stroke-width="0.5" fill="none"/>
<text x="285.8" y="159.4" font-size="11.4" text-anchor="middle">(e) North-Mid-Sea</text>
<text x="208.4" y="266.3" font-size="8.8" text-anchor="middle">J</text>
<text x="222.4" y="266.3" font-size="8.8" text-anchor="middle">F</text>
<text x="236.3" y="266.3" font-size="8.8" text-anchor="middle">M</text>
<text x="250.3" y="266.3" font-size="8.8" text-anchor="middle">A</text>
<text x="264.3" y="266.3" font-size="8.8" text-anchor="middle">M</text>
<text x="278.2" y="266.3" font-size="8.8" text-anchor="middle">J</text>
<text x="292.2" y="266.3" font-size="8.8" text-anchor="middle">J</text>
<text x="306.1" y="266.3" font-size="8.8" text-anchor="middle">A</text>
<text x="320.1" y="266.3" font-size="8.8" text-anchor="middle">S</text>
<text x="334.1" y="266.3" font-size="8.8" text-anchor="middle">O</text>
<text x="348" y="266.3" font-size="8.8" text-anchor="middle">N</text>
<text x="362" y="266.3" font-size="8.8" text-anchor="middle">D</text>
<g shape-rendering="geometricPrecision">
<rect x="381.4" y="162.6" width="153.6" height="92.4" fill="#000099"/>
<path fill="#0000cc" d="M395.4,162.6 409.3,162.6 419.6,164.1 423.9,165.6 433.2,167.1 437.3,168.6 451.2,166.9 465.2,167.3 466.3,167.1 470.5,165.6 479.1,164 493.1,162.6 535,162.6 535,255 381.4,255 381.4,162.6Z"/>
<path fill="#0000ff" d="M395.4,164.7 409.3,165.4 420.1,167.1 428.3,168.6 437.3,169.8 451.2,168.7 465.2,168.6 474.5,167.1 479.1,166.1 493.1,165.4 535,165.4 535,255 381.4,255 381.4,164.3Z"/>
<path fill="#0033ff" d="M395.4,166.1 409.3,166.9 423.3,169 437.3,170.9 451.2,169.6 465.2,169.3 472.8,168.6 479.1,167.6 493.1,166.9 535,166.9 535,255 381.4,255 381.4,165.8Z"/>
<path fill="#0066ff" d="M387,167.1 395.4,167.3 409.3,168 423.3,170.2 437.3,172 451.2,170.6 465.2,170 479.1,168.7 493.1,168 535,168 535,255 381.4,255 381.4,166.9Z"/>
<path fill="#0099ff" d="M395.4,168.4 409.3,169.1 423.3,171.3 437.3,173.1 451.2,171.5 493.1,169.1 535,169.1 535,255 381.4,255 381.4,168Z"/>
<path fill="#00ccff" d="M395.4,169.5 409.3,170.2 423.3,172.4 437.3,174.2 451.2,172.4 464,171.5 493.1,170 521,170 535,170.2 535,255 381.4,255 381.4,169.1Z"/>
<path fill="#00ffff" d="M395.4,170.6 409.3,171.3 423.3,173.5 437.3,175.3 454.2,173 465.2,172.2 493.1,170.9 521,170.9 535,171.3 535,255 381.4,255 381.4,170.2ZM473.1,216.3 468.4,217.7 468.7,219.2 475.5,220.7 479.1,221.1 489.2,220.7 489.8,219.2 488.5,217.7 483,216.3 479.1,215.5ZM488,222.2 490.3,223.7 493.1,224.8 494.4,223.7 494.4,222.2 493.1,221Z"/>
<path fill="#33ffcc" d="M391,171.5 409.3,172.5 422.8,174.5 437.3,176.4 451.2,174.2 465.2,173 479.1,172.6 493.1,171.9 521,171.9 535,172.4 535,255 381.4,255 381.4,171.3ZM477.2,201.3 465.2,202.8 462.7,204.3 459.2,205.8 451.2,208.4 446.7,211.8 439.4,216.3 437.6,217.7 437.3,218.5 436.3,223.7 436,226.7 436.1,228.2 436.7,231.2 437.3,232.8 439.2,234.1 446.8,237.1 451.2,239.7 454.2,237.1 456.2,235.6 461.5,232.6 465.2,230.9 479.1,230.7 493.1,235.7 507.1,236.4 508.7,234.1 510,231.2 510.7,228.2 510.9,225.2 510.6,222.2 509.9,219.2 508.9,216.3 507.1,212 504.9,210.3 493.1,203.8 480.6,201.3 479.1,201.1Z"/>
<path fill="#66ff99" d="M395.4,173 409.3,173.9 424.2,176 437.3,177.5 451.2,175.4 465.2,173.8 479.1,173.5 493.1,172.8 521,173 535,173.7 535,255 381.4,255 381.4,172.5ZM464.9,198.4 455.4,201.3 447.2,204.3 443.7,205.8 437.3,209.2 433.8,211.8 432.2,213.3 430.8,214.8 428.7,217.7 425,223.7 424.3,225.2 423.8,226.7 423.9,229.7 424.8,232.6 425.6,234.1 427,235.6 429.5,237.1 434,238.6 437.3,239.3 439.3,240.1 446.5,241.6 451.2,242 454.1,241.6 459.8,240.1 465.2,237.5 479.1,237.5 484.1,238.6 493.1,240.2 507.1,241.1 512.8,240.1 518.1,238.6 520.6,237.1 521.3,235.6 522.2,232.6 522.7,229.7 523,226.7 522.9,223.7 522.5,220.7 521.1,214.8 520.3,213.3 517.9,210.3 514.7,207.3 510.8,204.3 507.1,202 505.5,201.3 500.2,199.9 493.1,198.3 479.1,197.4Z"/>
<path fill="#99ff66" d="M383.7,174.5 409.3,176 418.7,177.5 437.3,179.2 447.9,177.5 455.2,176 465.2,174.8 493.1,173.9 507.1,174.1 520,174.5 535,175.6 535,255 381.4,255 381.4,243.2 437.3,242.9 451.2,243.5 456.5,243.1 465.2,241.5 479.1,241.5 493.1,242.9 507.1,243.4 514.1,243.1 521,242.3 523.6,241.6 526.6,240.1 528.4,238.6 529.5,237.1 530.8,234.1 532.1,229.7 532.6,226.7 532.9,222.2 532.7,217.7 532,214.8 530.9,211.8 528.9,208.8 527.5,207.3 525.8,205.8 523.6,204.3 516.5,199.9 513.1,198.4 507.1,196.5 500,195.4 493.1,194.6 479.1,194.2 465.2,194.6 455.6,196.9 451.2,198.3 444.8,199.9 440.5,201.3 437.3,202.8 432.4,204.3 429.2,205.8 427.2,207.3 425.9,208.8 423.3,212.9 419.4,214.8 417,216.3 415.2,217.7 413.8,219.2 411.9,222.2 409.3,227.8 407,226.7 401.9,225.2 395.4,223.8 384.7,226.7 381.4,228.3 381.4,174.5Z"/>
<path fill="#ccff33" d="M465.2,175.9 479.1,175.4 493.1,175.2 507.1,175.8 510.8,176 535,179.2 535,196.5 531.8,195.4 521,193.7 515.6,192.4 507.1,191.3 479.1,190.1 465.2,190.1 459.3,190.9 451.2,192.8 437.3,194.7 409.3,193 402.9,190.9 401.9,189.4 404,187.9 409.3,186.4 431.4,183.5 437.3,182.9 449.7,180.5 451.2,180.1 453.1,179 456.8,177.5ZM535,241.7 535,255 381.4,255 381.4,244.6 437.3,244.4 451.2,244.6 465.2,243.9 493.1,244.6 521,244.4 529.8,243.1Z"/>
<path fill="#ffff00" d="M465.2,177.4 479.1,176.5 494.3,177.5 507.1,179.1 511.2,180.5 514,182 514.1,183.5 510.3,185 507.1,185.5 493.1,185.9 479.1,185.5 465.2,184.7 461.2,183.5 459.4,182 459.8,180.5 461.7,179ZM535,243.8 535,255 381.4,255 381.4,245.5 451.2,245.5 465.2,245.3 521,245.5 529.9,244.6Z"/>
<path fill="#ffcc00" d="M479.1,178.4 481.8,179 479.1,179.7 476.1,179ZM535,245.2 535,255 381.4,255 381.4,246.5 521,246.5Z"/>
<path fill="#ff9900" d="M395.4,247.5 521,247.5 535,246.4 535,255 381.4,255 381.4,247.5Z"/>
<path fill="#ff6600" d="M395.4,248.8 521,248.8 535,247.7 535,255 381.4,255 381.4,248.8Z"/>
<path fill="#ff3300" d="M535,249 535,255 381.4,255 381.4,250.1 521,250.1Z"/>
<path fill="#ff0000" d="M535,250.4 535,255 381.4,255 381.4,251.6 521,251.6Z"/>
<path fill="#cc0000" d="M395.4,253.4 451.2,253.4 465.2,253.5 521,253.4 535,252.3 535,255 381.4,255 381.4,253.4Z"/>
<polygon fill="#fff" points="424,162.6 437.3,167.8 465.9,167.8 476.4,162.6"/>
</g>
<rect x="381.4" y="162.6" width="153.6" height="92.4" fill="none" stroke="#1a1a1a" stroke-width="0.8"/>
<path d="M381.4,255v-1.6M381.4,162.6v1.6M395.4,255v-1.6M395.4,162.6v1.6M409.3,255v-1.6M409.3,162.6v1.6M423.3,255v-1.6M423.3,162.6v1.6M437.3,255v-1.6M437.3,162.6v1.6M451.2,255v-1.6M451.2,162.6v1.6M465.2,255v-1.6M465.2,162.6v1.6M479.1,255v-1.6M479.1,162.6v1.6M493.1,255v-1.6M493.1,162.6v1.6M507.1,255v-1.6M507.1,162.6v1.6M521,255v-1.6M521,162.6v1.6M535,255v-1.6M535,162.6v1.6M381.4,168h1.6M535,168h-1.6M381.4,189.8h1.6M535,189.8h-1.6M381.4,211.5h1.6M535,211.5h-1.6M381.4,233.3h1.6M535,233.3h-1.6M381.4,255h1.6M535,255h-1.6" stroke="#262626" stroke-width="0.5" fill="none"/>
<text x="458.5" y="159.4" font-size="11.4" text-anchor="middle">(f) North-High-Sea</text>
<text x="381.4" y="266.3" font-size="8.8" text-anchor="middle">J</text>
<text x="395.4" y="266.3" font-size="8.8" text-anchor="middle">F</text>
<text x="409.3" y="266.3" font-size="8.8" text-anchor="middle">M</text>
<text x="423.3" y="266.3" font-size="8.8" text-anchor="middle">A</text>
<text x="437.3" y="266.3" font-size="8.8" text-anchor="middle">M</text>
<text x="451.2" y="266.3" font-size="8.8" text-anchor="middle">J</text>
<text x="465.2" y="266.3" font-size="8.8" text-anchor="middle">J</text>
<text x="479.1" y="266.3" font-size="8.8" text-anchor="middle">A</text>
<text x="493.1" y="266.3" font-size="8.8" text-anchor="middle">S</text>
<text x="507.1" y="266.3" font-size="8.8" text-anchor="middle">O</text>
<text x="521" y="266.3" font-size="8.8" text-anchor="middle">N</text>
<text x="535" y="266.3" font-size="8.8" text-anchor="middle">D</text>
<g shape-rendering="geometricPrecision">
<rect x="33.2" y="282.3" width="153.6" height="92.4" fill="#0033ff"/>
<path fill="#0066ff" d="M47.2,282.3 186.8,282.3 186.8,308.7 183.4,310.6 181.6,312.1 181.3,313.6 182.7,315.1 186.8,317.2 186.8,374.7 33.2,374.7 33.2,323.6 47.2,322.6 57.6,319.6 61.2,318.1 64.2,315.1 65,313.6 64.9,312.1 63.9,310.6 62.1,309.1 61.1,308.6 57.5,307.6 47.2,305.9 33.2,305.9 33.2,282.3Z"/>
<path fill="#0099ff" d="M47.2,282.3 186.8,282.3 186.8,301.6 174.8,303.2 172.8,303.6 165.6,307.6 163.3,309.1 161.6,310.6 160.7,312.1 160.8,313.6 161.8,315.1 172.8,324.7 181.3,327 184.4,328.5 186.8,330.3 186.8,374.7 33.2,374.7 33.2,331.7 47.2,330.3 61.1,327.5 70.3,324 73.7,322.5 79.5,319.6 86.5,316.6 89.1,315 90.4,313.6 90.7,312.1 89.4,310.6 87.3,309.1 83.7,307.6 74.5,304.7 61.1,303 47.2,302.6 33.2,302.6 33.2,282.3Z"/>
<path fill="#00ccff" d="M47.2,282.3 186.8,282.3 186.8,297.2 172.8,298.3 164.7,300.2 160.2,301.7 149.5,306.1 144.9,308.6 140.4,310.6 139.2,312.1 140.1,313.6 142.3,315.1 145.1,316.6 156.4,321 164.3,325.5 167.7,327 175.6,330 186.8,336.3 186.8,374.7 33.2,374.7 33.2,336.3 47.2,334.8 59.4,333 66.5,331.5 72.2,330 86.3,325.5 94.3,322.5 107.9,318.1 117,316.1 119.3,315.1 122,313.6 123.2,312.1 122.5,310.6 119.7,309.1 106.8,304.7 103,303 87.4,300.2 75.1,298.6 61.1,298.1 33.2,297.9 33.2,282.3Z"/>
<path fill="#00ffff" d="M47.2,282.3 186.8,282.3 186.8,293.2 172.8,293.9 161.5,295.7 153.6,297.2 144.9,299.4 140.5,300.2 134.2,301.7 130.9,302.6 125.1,301.7 117,300.8 110.9,298.7 103,296.8 92.9,295.7 89.1,295.4 61.1,293.9 47.2,293.5 33.2,293.5 33.2,282.3ZM130.9,319.4 137.4,321 144.9,322.3 157.1,327 163.3,330 172.8,334 177.8,337.4 180.4,338.9 186.8,341.8 186.8,374.7 33.2,374.7 33.2,340 47.2,338.9 60.8,337.4 70.6,336 75.1,335 83.7,333 89.1,331.4 104.2,325.5 117,321.2Z"/>
<path fill="#33ffcc" d="M47.2,282.3 186.8,282.3 186.8,289.6 172.8,290.3 160.2,291.2 144.9,292.8 130.9,293.6 117,293.2 103,291.8 94,291.2 47.2,288.9 33.2,288.5 33.2,282.3ZM130.9,326.7 144.9,327.8 154.9,333 158.9,334.5 165.3,337.4 172.8,341.7 180.9,344.9 186.8,347.8 186.8,374.7 33.2,374.7 33.2,345 47.2,344.3 61.1,342.9 75.1,341.8 82.3,340.4 89.1,339 96.7,336 108.7,331.5 117,327.8Z"/>
<path fill="#66ff99" d="M47.2,282.3 186.8,282.3 186.8,287.4 144.9,288.9 117,288.9 75.1,287.6 47.2,285.5 33.2,285.2 33.2,282.3ZM130.9,336.8 144.9,336.8 151.9,338.9 158.9,340.5 165.1,343.4 172.8,346.1 180.6,349.4 186.8,351.6 186.8,374.7 33.2,374.7 33.2,350.1 47.2,350.1 61.1,349.4 75.1,349 89.1,346.7 96.3,343.4 103,340.7 117,337.6Z"/>
<path fill="#99ff66" d="M61.1,282.3 186.8,282.3 186.8,285.6 158.9,286.3 103,286.3 89.1,285.9 75.1,285.5 61.1,284.3 47.2,282.3ZM117,344.7 130.9,343.9 144.9,343.9 158.9,346 164.2,347.9 172.8,350.3 178.3,352.3 186.8,355 186.8,374.7 33.2,374.7 33.2,354.3 42.8,355.3 47.2,356.1 61.1,356.9 75.1,355.8 89.1,352.7 94.1,350.9 103,347.2Z"/>
<path fill="#ccff33" d="M89.1,282.3 186.8,282.3 186.8,283.8 103,283.9 91.3,283.8 89.1,283.7 84.4,282.3ZM130.9,350.5 144.9,350.5 158.9,351.4 162.2,352.3 172.8,354.5 179.7,356.8 186.8,358.5 186.8,374.7 33.2,374.7 33.2,358 42.4,361.3 47.2,362.7 61.1,363.9 75.1,361.8 93.7,356.8 103,353.6 117,351.2Z"/>
<path fill="#ffff00" d="M117,357.6 130.9,357.2 144.9,357.2 158.9,357.6 172.8,360 178.1,361.3 186.8,363.1 186.8,374.7 33.2,374.7 33.2,366.8 47.2,368.5 61.1,368.9 62.3,368.7 75.1,367.1 80.3,365.8 89.1,363.1 97.9,361.3 103.8,359.8Z"/>
<path fill="#ffcc00" d="M117,362.7 130.9,362.3 158.9,363.1 172.8,366.3 186.8,368.5 186.8,374.7 33.2,374.7 33.2,371.8 47.2,372.3 61.1,372.5 75.1,371.2 89.8,368.7 103,366.1Z"/>
<path fill="#ff9900" d="M117,368.3 130.9,367.9 144.9,368.3 158.9,369.1 172.8,372 186.8,373.5 186.8,374.7 72.3,374.7 105.1,370.2Z"/>
<path fill="#ff6600" d="M117,372.7 130.9,372.5 135.8,373.2 143.6,374.7 100,374.7 103,374.1Z"/>
</g>
<rect x="33.2" y="282.3" width="153.6" height="92.4" fill="none" stroke="#1a1a1a" stroke-width="0.8"/>
<path d="M33.2,374.7v-1.6M33.2,282.3v1.6M47.2,374.7v-1.6M47.2,282.3v1.6M61.1,374.7v-1.6M61.1,282.3v1.6M75.1,374.7v-1.6M75.1,282.3v1.6M89.1,374.7v-1.6M89.1,282.3v1.6M103,374.7v-1.6M103,282.3v1.6M117,374.7v-1.6M117,282.3v1.6M130.9,374.7v-1.6M130.9,282.3v1.6M144.9,374.7v-1.6M144.9,282.3v1.6M158.9,374.7v-1.6M158.9,282.3v1.6M172.8,374.7v-1.6M172.8,282.3v1.6M186.8,374.7v-1.6M186.8,282.3v1.6M33.2,287.7h1.6M186.8,287.7h-1.6M33.2,309.5h1.6M186.8,309.5h-1.6M33.2,331.2h1.6M186.8,331.2h-1.6M33.2,353h1.6M186.8,353h-1.6M33.2,374.7h1.6M186.8,374.7h-1.6" stroke="#262626" stroke-width="0.5" fill="none"/>
<text x="109.4" y="279.1" font-size="11.4" text-anchor="middle">(g) South-Low-Land</text>
<text x="33.2" y="386" font-size="8.8" text-anchor="middle">J</text>
<text x="47.2" y="386" font-size="8.8" text-anchor="middle">A</text>
<text x="61.1" y="386" font-size="8.8" text-anchor="middle">S</text>
<text x="75.1" y="386" font-size="8.8" text-anchor="middle">O</text>
<text x="89.1" y="386" font-size="8.8" text-anchor="middle">N</text>
<text x="103" y="386" font-size="8.8" text-anchor="middle">D</text>
<text x="117" y="386" font-size="8.8" text-anchor="middle">J</text>
<text x="130.9" y="386" font-size="8.8" text-anchor="middle">F</text>
<text x="144.9" y="386" font-size="8.8" text-anchor="middle">M</text>
<text x="158.9" y="386" font-size="8.8" text-anchor="middle">A</text>
<text x="172.8" y="386" font-size="8.8" text-anchor="middle">M</text>
<text x="186.8" y="386" font-size="8.8" text-anchor="middle">J</text>
<text x="30.2" y="290.7" font-size="8.8" text-anchor="end">200</text>
<text x="30.2" y="312.5" font-size="8.8" text-anchor="end">400</text>
<text x="30.2" y="334.2" font-size="8.8" text-anchor="end">600</text>
<text x="30.2" y="356" font-size="8.8" text-anchor="end">800</text>
<text x="30.2" y="377.7" font-size="8.8" text-anchor="end">1000</text>
<text transform="translate(9.6,328.5) rotate(-90)" font-size="9.7" text-anchor="middle">Pressure[hPa]</text>
<g shape-rendering="geometricPrecision">
<rect x="208.4" y="282.3" width="153.6" height="92.4" fill="#0033ff"/>
<path fill="#0066ff" d="M320.1,283.7 348,283.7 362,284 362,374.7 208.4,374.7 208.4,337.2 222.4,339 227.5,336 229.4,334.5 230.4,333 229.8,331.5 227.7,330 222.4,328.1 208.4,329 208.4,285.3 222.4,285.3 236.3,284.7 250.3,284.4 278.2,284.4 292.2,284 306.1,284ZM319.6,321 317.4,322.5 318.6,324 320.1,324.8 321.6,324 322.3,322.5 320.1,320.9ZM346.4,331.5 347.6,333 348,333.2 348.6,333 349.9,331.5 348,330.6Z"/>
<path fill="#0099ff" d="M334.1,285.2 348,285.2 362,286.3 362,313.6 334.1,311.8 326.9,310.6 314.5,309.1 306.1,307.2 292.2,306.3 287.7,307.6 278.2,310 222.4,313.6 208.4,313.6 208.4,289.2 225.7,288.3 250.3,287.2 278.2,287.2 292.2,286.7 306.1,286.7 320.1,285.6ZM292.2,331.8 306.1,332.7 324.8,337.4 329.8,338.9 334.1,340.8 339,341.9 348,343.6 362,345.3 362,374.7 208.4,374.7 208.4,342.7 222.4,342.8 278.2,339 280.3,337.4 282.7,336 285.5,334.5Z"/>
<path fill="#00ccff" d="M334.1,286.6 348,287 358.6,288.3 362,289.2 362,301.7 348,302.4 334.1,302.7 320.1,301.7 313.4,300.2 309.7,298.7 307.9,297.2 307.2,295.7 307.2,294.2 307.9,292.7 309.2,291.2 311.3,289.8 316.6,288.3 320.1,287.7ZM250.3,290.1 264.3,290.2 275.2,291.2 278.3,292.7 279.8,294.2 280.5,295.7 280,297.2 278.2,298.9 277.6,300.2 274.4,301.7 264.3,302.9 250.3,303.7 246.7,303.2 239.5,301.7 238,300.2 237.2,298.7 236.9,297.2 237,295.7 237.7,294.2 239.1,292.7 242.6,291.2ZM306.1,339 317.8,341.9 334.1,347.2 348,349.9 362,350.9 362,374.7 208.4,374.7 208.4,349.5 222.4,349.6 236.3,349 264.3,349 278.2,348.1 283.8,344.9 292.2,340.8Z"/>
<path fill="#00ffff" d="M334.1,288.5 348.8,289.8 353.3,291.2 355.8,292.7 356.6,294.2 355.6,295.7 351.8,297.2 348,298.1 334.1,298.6 320.1,297.2 317.6,295.7 316.5,294.2 317,292.7 318.6,291.2 320.1,290.4 323.2,289.8ZM250.3,292.3 264.6,292.7 267.9,294.2 269.4,295.7 269.5,297.2 268.2,298.7 265.1,300.2 250.3,301.1 247.8,300.2 245.4,298.7 244.4,297.2 244.6,295.7 245.9,294.2 248.6,292.7ZM306.1,343.6 313.8,346.4 323.9,349.4 334.1,351.8 348,354 362,354.5 362,374.7 208.4,374.7 208.4,353.3 222.4,353.6 236.3,353.6 264.3,354.5 278.2,354 283.1,352.3 286.4,350.9 292.2,347.3Z"/>
<path fill="#33ffcc" d="M334.1,292.4 335.6,292.7 334.1,293.9 333.2,292.7ZM306.1,351.7 324.5,355.3 334.1,356.9 348,358.1 362,358.5 362,374.7 208.4,374.7 208.4,357.2 222.4,357.6 236.3,357.6 264.3,359.4 278.2,359.4 290.4,356.8 299.2,353.8Z"/>
<path fill="#66ff99" d="M306.1,358.1 320.1,360 348,362.3 362,362.3 362,374.7 208.4,374.7 208.4,360.5 236.3,361.2 264.3,363.6 278.2,364.1 292.2,361.8 300.3,359.8Z"/>
<path fill="#99ff66" d="M222.4,364 236.3,364.5 264.3,367.2 278.2,368.1 292.2,366.3 306.1,363.6 334.1,365.4 342.3,365.8 348,366 362,365.8 362,374.7 208.4,374.7 208.4,363.6Z"/>
<path fill="#ccff33" d="M222.4,366.7 236.3,367.2 264.3,370.3 278.2,371.4 292.2,369.9 306.1,368.1 334.1,369 348,369.1 362,368.7 362,374.7 208.4,374.7 208.4,366.3Z"/>
<path fill="#ffff00" d="M222.4,369.5 236.3,370 278.2,374.2 287.3,373.2 306.1,371.8 320.1,371.8 334.1,372.2 362,371.2 362,374.7 208.4,374.7 208.4,369.1Z"/>
<path fill="#ffcc00" d="M348,374.3 362,373.8 362,374.7 345.2,374.7Z"/>
</g>
<rect x="208.4" y="282.3" width="153.6" height="92.4" fill="none" stroke="#1a1a1a" stroke-width="0.8"/>
<path d="M208.4,374.7v-1.6M208.4,282.3v1.6M222.4,374.7v-1.6M222.4,282.3v1.6M236.3,374.7v-1.6M236.3,282.3v1.6M250.3,374.7v-1.6M250.3,282.3v1.6M264.3,374.7v-1.6M264.3,282.3v1.6M278.2,374.7v-1.6M278.2,282.3v1.6M292.2,374.7v-1.6M292.2,282.3v1.6M306.1,374.7v-1.6M306.1,282.3v1.6M320.1,374.7v-1.6M320.1,282.3v1.6M334.1,374.7v-1.6M334.1,282.3v1.6M348,374.7v-1.6M348,282.3v1.6M362,374.7v-1.6M362,282.3v1.6M208.4,287.7h1.6M362,287.7h-1.6M208.4,309.5h1.6M362,309.5h-1.6M208.4,331.2h1.6M362,331.2h-1.6M208.4,353h1.6M362,353h-1.6M208.4,374.7h1.6M362,374.7h-1.6" stroke="#262626" stroke-width="0.5" fill="none"/>
<text x="285.8" y="279.1" font-size="11.4" text-anchor="middle">(h) South-Mid-Land</text>
<text x="208.4" y="386" font-size="8.8" text-anchor="middle">J</text>
<text x="222.4" y="386" font-size="8.8" text-anchor="middle">A</text>
<text x="236.3" y="386" font-size="8.8" text-anchor="middle">S</text>
<text x="250.3" y="386" font-size="8.8" text-anchor="middle">O</text>
<text x="264.3" y="386" font-size="8.8" text-anchor="middle">N</text>
<text x="278.2" y="386" font-size="8.8" text-anchor="middle">D</text>
<text x="292.2" y="386" font-size="8.8" text-anchor="middle">J</text>
<text x="306.1" y="386" font-size="8.8" text-anchor="middle">F</text>
<text x="320.1" y="386" font-size="8.8" text-anchor="middle">M</text>
<text x="334.1" y="386" font-size="8.8" text-anchor="middle">A</text>
<text x="348" y="386" font-size="8.8" text-anchor="middle">M</text>
<text x="362" y="386" font-size="8.8" text-anchor="middle">J</text>
<g shape-rendering="geometricPrecision">
<rect x="381.4" y="282.3" width="153.6" height="92.4" fill="#000099"/>
<path fill="#0000cc" d="M395.4,282.3 461.2,282.3 465.2,285.3 479.1,287.1 493.1,287.1 507.1,285.3 510.6,282.3 535,282.3 535,374.7 381.4,374.7 381.4,282.3Z"/>
<path fill="#0000ff" d="M395.4,282.3 451.2,282.3 456.6,283.8 460.4,285.3 465.2,288 479.1,290.2 493.1,290.2 507.1,288.4 510.5,286.8 514.3,285.3 521,283.5 522,282.3 535,282.3 535,374.7 381.4,374.7 381.4,282.3Z"/>
<path fill="#0033ff" d="M395.4,282.3 447.7,282.3 450.6,283.8 455.6,285.3 459.5,286.8 462.4,288.3 465.2,289.3 479.1,291.7 493.1,291.7 507.1,289.9 515.5,286.8 521,285.3 523.3,283.8 524.5,282.3 535,282.3 535,374.7 381.4,374.7 381.4,282.3Z"/>
<path fill="#0066ff" d="M395.4,282.3 444.2,282.3 447.3,283.8 451,285.3 455.9,286.8 465.2,290.4 479.1,292.8 493.1,292.8 507.1,291 515,288.3 521,286.6 523.6,285.3 525.8,283.8 527,282.3 535,282.3 535,374.7 381.4,374.7 381.4,282.3Z"/>
<path fill="#0099ff" d="M395.4,282.3 440.7,282.3 444,283.8 448,285.3 464.8,291.2 479.1,293.7 493.1,293.7 507.1,291.9 521,287.7 523.2,286.8 526.1,285.3 528.3,283.8 529.5,282.3 535,282.3 535,374.7 381.4,374.7 381.4,282.3Z"/>
<path fill="#00ccff" d="M395.4,282.3 437.3,282.3 440.7,283.8 448.7,286.8 461.6,291.2 465.2,292.3 479.1,294.6 493.1,294.6 507.1,292.8 511.8,291.2 522.2,288.3 528.5,285.3 530.8,283.8 532,282.3 535,282.3 535,374.7 381.4,374.7 381.4,282.3Z"/>
<path fill="#00ffff" d="M395.4,282.3 432.9,282.3 441.8,285.3 445.2,286.8 449.6,288.3 451.2,288.6 458.4,291.2 463.2,292.7 479.1,295.5 493.1,295.5 507.1,293.7 514.6,291.2 521,289.5 524.9,288.3 531,285.3 533.3,283.8 534.5,282.3 535,282.3 535,374.7 381.4,374.7 381.4,282.3Z"/>
<path fill="#33ffcc" d="M395.4,282.3 428.5,282.3 431.2,283.8 437.3,284.8 438.8,285.3 444.7,288.3 451.2,289.7 459.3,292.7 465.2,294.1 479.1,296.3 493.1,296.3 508.3,294.2 517.3,291.2 523.7,289.8 527.6,288.3 533.5,285.3 535,284.3 535,374.7 381.4,374.7 381.4,282.3Z"/>
<path fill="#66ff99" d="M395.4,282.3 424.2,282.3 424.7,283.8 428,285.3 437.3,286.3 438.2,286.8 439.9,288.3 443.2,289.8 451.2,290.9 455.3,292.7 460.3,294.2 469.5,295.7 479.1,297 493.1,297 507.1,295.2 512.2,294.2 520.1,291.2 527.3,289.8 535,285.7 535,374.7 381.4,374.7 381.4,282.3Z"/>
<path fill="#99ff66" d="M395.4,282.3 412.1,282.3 409.3,284.9 395.4,285.4 381.4,285.3 381.4,282.3ZM535,287 535,350.3 521,351.3 507.1,349 504,347.9 500.8,346.4 498.3,344.9 496.4,343.4 493.1,340 485.9,337.4 482.2,336 479.1,334.5 470.3,333 465.2,331.8 460.7,333 451.2,336.3 437.3,340.8 409.3,342.6 381.4,346.3 381.4,300 395.4,298.2 398,297.2 409.4,295.7 423.3,294.4 430,292.7 437.3,291.7 451.2,292.6 454.6,294.2 463,295.7 479.1,297.8 493.1,297.8 509,295.7 516.1,294.2 518.7,292.7 521,291.9 525.7,291.2 531,289.8ZM395.4,361.8 409.3,362.4 430.6,362.8 535,363 535,374.7 381.4,374.7 381.4,361.8Z"/>
<path fill="#ccff33" d="M535,289.3 535,316.1 521,316.1 518.4,318.1 516.9,319.6 515.9,321 515.7,322.5 516.3,324 517.7,325.5 521,327.8 535,329.1 535,337.6 521,338.7 507.1,339 503.5,334.5 502.1,333 500.3,331.5 497.8,330 494.3,328.5 493.1,328.1 484.8,327 479.1,326.7 470.5,325.5 463.3,324 458.7,322.5 455.6,321 451.2,318.1 437.3,318.1 431.3,316.6 426.6,315.1 423.4,313.6 418.4,312.1 414.6,310.6 412.5,309.1 409.1,306.1 408.3,304.7 409.3,303.2 411.1,301.7 414.8,300.2 437.3,296.2 451.2,295.3 452.6,295.7 479.1,298.6 493.1,298.6 505.9,297.2 516.7,295.7 520,294.2 521,293.4 525.3,292.7 532.9,291.2ZM395.4,364.2 409.3,364.5 451.2,365.1 535,365.1 535,374.7 381.4,374.7 381.4,364.2Z"/>
<path fill="#ffff00" d="M451.2,298.2 465.2,298.5 479.1,299.7 493.1,299.6 507.1,298.5 515.7,298.7 521.9,300.2 524.8,301.7 525.2,303.2 523.4,304.7 521,305.9 519.4,307.6 515.1,309.1 507.7,310.6 507.1,310.9 505.6,312.1 503.1,313.6 498.7,315.1 493.1,316.3 483.9,321 479.1,322.6 470.2,319.6 465.2,318.1 451.2,311.8 441,310.6 437.3,310 425.4,307.6 423.3,306.4 423.1,306.1 422.7,304.7 423.2,303.2 427.5,301.7 437.3,299.9ZM395.4,366.3 451.2,367 535,367 535,374.7 381.4,374.7 381.4,366.3Z"/>
<path fill="#ffcc00" d="M465.2,300.4 479.1,300.8 507.1,300.7 511.5,301.7 514.4,303.2 514.3,304.7 511.5,306.1 505.4,307.6 486.3,313.6 479.1,315.4 468.9,313.6 465.2,312.7 451.2,307.7 443.3,306.1 440.9,304.7 445,303.2 453.7,301.7ZM395.4,368.2 451.2,368.9 535,368.9 535,374.7 381.4,374.7 381.4,368.2Z"/>
<path fill="#ff9900" d="M465.2,302.8 479.1,302.3 493.1,302.5 507,303.2 507.1,304.7 499.6,306.1 493.1,308.1 483.2,310.6 479.1,312.1 473,310.6 465.2,309 459.4,306.1 459.1,304.7 463.5,303.2ZM395.4,370 437.3,370.5 535,370.5 535,374.7 381.4,374.7 381.4,370Z"/>
<path fill="#ff6600" d="M395.4,372.2 437.3,372.6 535,372.7 535,374.7 381.4,374.7 381.4,372.2Z"/>
</g>
<rect x="381.4" y="282.3" width="153.6" height="92.4" fill="none" stroke="#1a1a1a" stroke-width="0.8"/>
<path d="M381.4,374.7v-1.6M381.4,282.3v1.6M395.4,374.7v-1.6M395.4,282.3v1.6M409.3,374.7v-1.6M409.3,282.3v1.6M423.3,374.7v-1.6M423.3,282.3v1.6M437.3,374.7v-1.6M437.3,282.3v1.6M451.2,374.7v-1.6M451.2,282.3v1.6M465.2,374.7v-1.6M465.2,282.3v1.6M479.1,374.7v-1.6M479.1,282.3v1.6M493.1,374.7v-1.6M493.1,282.3v1.6M507.1,374.7v-1.6M507.1,282.3v1.6M521,374.7v-1.6M521,282.3v1.6M535,374.7v-1.6M535,282.3v1.6M381.4,287.7h1.6M535,287.7h-1.6M381.4,309.5h1.6M535,309.5h-1.6M381.4,331.2h1.6M535,331.2h-1.6M381.4,353h1.6M535,353h-1.6M381.4,374.7h1.6M535,374.7h-1.6" stroke="#262626" stroke-width="0.5" fill="none"/>
<text x="458.5" y="279.1" font-size="11.4" text-anchor="middle">(i) South-High-Land</text>
<text x="381.4" y="386" font-size="8.8" text-anchor="middle">J</text>
<text x="395.4" y="386" font-size="8.8" text-anchor="middle">A</text>
<text x="409.3" y="386" font-size="8.8" text-anchor="middle">S</text>
<text x="423.3" y="386" font-size="8.8" text-anchor="middle">O</text>
<text x="437.3" y="386" font-size="8.8" text-anchor="middle">N</text>
<text x="451.2" y="386" font-size="8.8" text-anchor="middle">D</text>
<text x="465.2" y="386" font-size="8.8" text-anchor="middle">J</text>
<text x="479.1" y="386" font-size="8.8" text-anchor="middle">F</text>
<text x="493.1" y="386" font-size="8.8" text-anchor="middle">M</text>
<text x="507.1" y="386" font-size="8.8" text-anchor="middle">A</text>
<text x="521" y="386" font-size="8.8" text-anchor="middle">M</text>
<text x="535" y="386" font-size="8.8" text-anchor="middle">J</text>
<g shape-rendering="geometricPrecision">
<rect x="33.2" y="401.9" width="153.6" height="92.4" fill="#0066ff"/>
<path fill="#0099ff" d="M47.2,401.9 186.8,401.9 186.8,422.4 172.8,422.7 165.3,425.7 162.3,427.2 157.7,430.2 158.2,431.7 158.9,432.1 159.8,433.2 164,439.2 166.9,442.1 172.8,447.2 186.8,453.6 186.8,494.3 33.2,494.3 33.2,461.7 47.2,460.3 47.7,460 52.9,457 54.9,455.6 61.1,449.9 68.2,446.6 76,442.1 85.9,437.7 88.2,436.2 89.7,434.7 90.3,433.2 89,431.7 87.4,430.2 85.2,428.7 82.2,427.2 75.1,424.5 61.1,421.8 47.2,421 33.2,421 33.2,401.9Z"/>
<path fill="#00ccff" d="M47.2,401.9 186.8,401.9 186.8,416.8 172.8,417.2 158.9,418.1 130.9,420.9 117,420.9 103,421.8 101.2,421.3 89.1,419.1 81,418.3 75.1,417.9 47.2,417.5 33.2,417.5 33.2,401.9ZM117,443.5 130.9,443.1 144.9,443.5 150.8,445.1 154.5,446.6 156.4,448.1 158.9,450.8 165.2,454.1 167.3,455.6 172.8,461.7 186.8,466.2 186.8,494.3 33.2,494.3 33.2,469 47.2,468.6 61.1,467.9 62.7,467.5 75.1,462.6 77.9,460 84.9,452.6 88.3,449.6 90.4,448.1 95.6,446.6 103,445.3Z"/>
<path fill="#00ffff" d="M47.2,401.9 186.8,401.9 186.8,412.8 172.8,413.2 158.9,413.9 144.9,415 130.9,415.7 117,415.7 89.1,414.2 75.1,413.9 61.1,413.9 47.2,413.5 33.2,413.5 33.2,401.9ZM117,447.9 130.9,447.3 144.9,448.1 149.5,452.6 151.7,454.1 154.8,455.6 158.9,457.2 160.1,458.5 163,463 164.5,464.5 166.7,466 170.5,467.5 176.9,469 186.8,470.3 186.8,494.3 33.2,494.3 33.2,472.1 61.1,471.4 73.8,470.5 80.1,469 83.7,467.5 86,466 89.8,463 92.8,460 97.8,454.1 101.2,451.1 103,450Z"/>
<path fill="#33ffcc" d="M47.2,401.9 186.8,401.9 186.8,408.9 158.9,409.6 144.9,410.3 130.9,410.7 117,410.7 61.1,409.2 47.2,408.5 33.2,408.1 33.2,401.9ZM144.9,469 158.9,471.7 161.2,471.9 172.8,472.6 186.8,473 186.8,494.3 33.2,494.3 33.2,474.4 47.2,474.4 61.1,474 79.3,473.4 103,472.1 117,472Z"/>
<path fill="#66ff99" d="M47.2,401.9 186.8,401.9 186.8,406.3 130.9,407.7 117,407.7 75.1,406.6 61.1,406 47.2,404.5 33.2,403.3 33.2,401.9ZM144.9,473 172.8,475.3 186.8,475.5 186.8,494.3 33.2,494.3 33.2,476.3 47.2,476.3 103,474.8Z"/>
<path fill="#99ff66" d="M61.1,401.9 186.8,401.9 186.8,404 172.8,404.8 144.9,405.6 117,405.6 89.1,405.2 61.1,403.6 51.8,401.9ZM103,476.3 117,475.9 144.9,475.5 172.8,477.2 186.8,477.4 186.8,494.3 33.2,494.3 33.2,477.7 47.2,477.7Z"/>
<path fill="#ccff33" d="M89.1,401.9 179.8,401.9 172.8,403 144.9,403.6 117,403.6 89.1,403.3 75.1,401.9ZM103,477.6 117,477.4 144.9,477.3 172.8,478.6 186.8,478.8 186.8,494.3 33.2,494.3 33.2,479 47.2,479Z"/>
<path fill="#ffff00" d="M89.1,479.2 117,478.7 130.9,478.7 144.9,478.8 172.8,480 186.8,480.2 186.8,494.3 33.2,494.3 33.2,480.3 47.2,480.3Z"/>
<path fill="#ffcc00" d="M89.1,480.7 117,480.1 130.9,480.1 144.9,480.3 172.8,481.4 186.8,481.6 186.8,494.3 33.2,494.3 33.2,481.8 47.2,481.8Z"/>
<path fill="#ff9900" d="M89.1,482.3 117,481.8 130.9,481.8 144.9,481.9 172.8,483 186.8,483.3 186.8,494.3 33.2,494.3 33.2,483.6 47.2,483.6Z"/>
<path fill="#ff6600" d="M103,483.8 130.9,483.6 144.9,483.8 180.8,485.4 186.8,485.8 186.8,494.3 33.2,494.3 33.2,486.7 47.2,486.4Z"/>
<path fill="#ff3300" d="M103,485.9 130.9,485.8 144.9,486 160.1,486.8 170.1,488.3 172.8,489.2 174.3,489.8 177,491.3 179,492.8 179.8,494.3 54.1,494.3 57,492.8 61.1,491.8 89.1,488.1Z"/>
<path fill="#ff0000" d="M130.9,490.9 144.9,491.2 151.7,492.8 154.2,494.3 105.3,494.3 108.9,492.8 117,491.8Z"/>
</g>
<rect x="33.2" y="401.9" width="153.6" height="92.4" fill="none" stroke="#1a1a1a" stroke-width="0.8"/>
<path d="M33.2,494.3v-1.6M33.2,401.9v1.6M47.2,494.3v-1.6M47.2,401.9v1.6M61.1,494.3v-1.6M61.1,401.9v1.6M75.1,494.3v-1.6M75.1,401.9v1.6M89.1,494.3v-1.6M89.1,401.9v1.6M103,494.3v-1.6M103,401.9v1.6M117,494.3v-1.6M117,401.9v1.6M130.9,494.3v-1.6M130.9,401.9v1.6M144.9,494.3v-1.6M144.9,401.9v1.6M158.9,494.3v-1.6M158.9,401.9v1.6M172.8,494.3v-1.6M172.8,401.9v1.6M186.8,494.3v-1.6M186.8,401.9v1.6M33.2,407.3h1.6M186.8,407.3h-1.6M33.2,429.1h1.6M186.8,429.1h-1.6M33.2,450.8h1.6M186.8,450.8h-1.6M33.2,472.6h1.6M186.8,472.6h-1.6M33.2,494.3h1.6M186.8,494.3h-1.6" stroke="#262626" stroke-width="0.5" fill="none"/>
<text x="109.4" y="398.7" font-size="11.4" text-anchor="middle">(j) South-Low-Sea</text>
<text x="33.2" y="505.6" font-size="8.8" text-anchor="middle">J</text>
<text x="47.2" y="505.6" font-size="8.8" text-anchor="middle">A</text>
<text x="61.1" y="505.6" font-size="8.8" text-anchor="middle">S</text>
<text x="75.1" y="505.6" font-size="8.8" text-anchor="middle">O</text>
<text x="89.1" y="505.6" font-size="8.8" text-anchor="middle">N</text>
<text x="103" y="505.6" font-size="8.8" text-anchor="middle">D</text>
<text x="117" y="505.6" font-size="8.8" text-anchor="middle">J</text>
<text x="130.9" y="505.6" font-size="8.8" text-anchor="middle">F</text>
<text x="144.9" y="505.6" font-size="8.8" text-anchor="middle">M</text>
<text x="158.9" y="505.6" font-size="8.8" text-anchor="middle">A</text>
<text x="172.8" y="505.6" font-size="8.8" text-anchor="middle">M</text>
<text x="186.8" y="505.6" font-size="8.8" text-anchor="middle">J</text>
<text x="30.2" y="410.3" font-size="8.8" text-anchor="end">200</text>
<text x="30.2" y="432.1" font-size="8.8" text-anchor="end">400</text>
<text x="30.2" y="453.8" font-size="8.8" text-anchor="end">600</text>
<text x="30.2" y="475.6" font-size="8.8" text-anchor="end">800</text>
<text x="30.2" y="497.3" font-size="8.8" text-anchor="end">1000</text>
<text transform="translate(9.6,448.1) rotate(-90)" font-size="9.7" text-anchor="middle">Pressure[hPa]</text>
<g shape-rendering="geometricPrecision">
<rect x="208.4" y="401.9" width="153.6" height="92.4" fill="#0033ff"/>
<path fill="#0066ff" d="M222.4,402.9 236.3,401.9 362,401.9 362,494.3 208.4,494.3 208.4,403.4Z"/>
<path fill="#0099ff" d="M278.2,401.9 350.4,401.9 362,405.3 362,449.9 348,449.6 334.1,449.9 324,451.1 320.6,452.6 323.2,454.1 324.8,455.6 326.9,457 330.1,458.5 334.1,459.9 348,462.7 362,464.1 362,494.3 208.4,494.3 208.4,464.5 222.4,464.8 236.3,463.5 243.8,461.5 248,460 250.3,459 252.9,457 253,455.6 250.3,453.5 244.5,451.1 238.9,449.6 231.8,448.1 222.4,446.6 208.4,448.1 208.4,406.3 222.4,406 250.3,405 264.9,403.4 271.2,401.9Z"/>
<path fill="#00ccff" d="M292.2,404.4 334.1,404.4 348,404.8 362,408.4 362,437.3 320.1,435.8 292.2,435.9 278.2,436.3 264.3,435.5 250.3,435.5 222.4,434.5 208.4,434.5 208.4,412.3 222.4,411.3 250.3,408.5 264.3,406.6 278.2,405.3ZM264.3,469.8 278.2,469 292.2,469 306.1,469.8 362,471.7 362,494.3 208.4,494.3 208.4,471.7 222.4,471.7 236.3,471.4 257.4,470.5Z"/>
<path fill="#00ffff" d="M292.2,407.2 334.1,407.2 348,407.8 353,409.4 359,410.8 362,411.9 362,432.5 348,431.7 320.1,430.7 292.2,430.7 250.3,429.5 236.3,428.1 229.6,425.7 222.4,422.4 220.8,422.8 212.2,427.2 208.4,428.8 208.4,417.8 216.6,416.8 236.3,415 250.3,412.6 257,410.8 265.7,409.4 278.2,408.1ZM278.2,474.5 292.2,474.5 320.1,475.4 334.1,475.4 362,476.1 362,494.3 208.4,494.3 208.4,476.3 222.4,476.3 250.3,475.7 264.3,475.4Z"/>
<path fill="#33ffcc" d="M278.2,410.8 292.2,410.4 306.1,410.4 334.1,411.4 341.4,412.3 348,413.6 349.7,415.3 350.1,416.8 349,418.3 348,419 345.1,419.8 333.2,421.3 320.1,422.3 306.1,423 292.2,423 278.2,422.7 269.5,421.3 264.3,419.9 262.9,419.8 255.9,418.3 256.8,416.8 259.5,415.3 264.3,413.3 268.8,412.3ZM222.4,478.9 236.3,478.9 292.2,478.2 362,478.9 362,494.3 208.4,494.3 208.4,478.9Z"/>
<path fill="#66ff99" d="M222.4,480.1 264.3,480 292.2,479.7 362,480.1 362,494.3 208.4,494.3 208.4,480.1Z"/>
<path fill="#99ff66" d="M292.2,480.8 362,481 362,494.3 208.4,494.3 208.4,481 278.2,481Z"/>
<path fill="#ccff33" d="M222.4,482.1 278.2,482.1 292.2,481.9 362,482.1 362,494.3 208.4,494.3 208.4,482.1Z"/>
<path fill="#ffff00" d="M222.4,483.2 278.2,483.3 292.2,483.1 362,483.2 362,494.3 208.4,494.3 208.4,483.2Z"/>
<path fill="#ffcc00" d="M222.4,484.5 278.2,484.5 292.2,484.3 362,484.5 362,494.3 208.4,494.3 208.4,484.5Z"/>
<path fill="#ff9900" d="M222.4,486 264.3,486 292.2,485.6 306.1,485.6 334.1,486 362,486 362,494.3 208.4,494.3 208.4,486Z"/>
<path fill="#ff6600" d="M222.4,488.1 264.3,488.1 292.2,487.5 306.1,487.5 334.1,488.1 362,488.1 362,494.3 208.4,494.3 208.4,488.1Z"/>
<path fill="#ff3300" d="M278.2,492.2 292.2,491.8 306.1,491.8 320.1,492.2 324.8,492.8 329.4,494.3 268.9,494.3 273.6,492.8Z"/>
</g>
<rect x="208.4" y="401.9" width="153.6" height="92.4" fill="none" stroke="#1a1a1a" stroke-width="0.8"/>
<path d="M208.4,494.3v-1.6M208.4,401.9v1.6M222.4,494.3v-1.6M222.4,401.9v1.6M236.3,494.3v-1.6M236.3,401.9v1.6M250.3,494.3v-1.6M250.3,401.9v1.6M264.3,494.3v-1.6M264.3,401.9v1.6M278.2,494.3v-1.6M278.2,401.9v1.6M292.2,494.3v-1.6M292.2,401.9v1.6M306.1,494.3v-1.6M306.1,401.9v1.6M320.1,494.3v-1.6M320.1,401.9v1.6M334.1,494.3v-1.6M334.1,401.9v1.6M348,494.3v-1.6M348,401.9v1.6M362,494.3v-1.6M362,401.9v1.6M208.4,407.3h1.6M362,407.3h-1.6M208.4,429.1h1.6M362,429.1h-1.6M208.4,450.8h1.6M362,450.8h-1.6M208.4,472.6h1.6M362,472.6h-1.6M208.4,494.3h1.6M362,494.3h-1.6" stroke="#262626" stroke-width="0.5" fill="none"/>
<text x="285.8" y="398.7" font-size="11.4" text-anchor="middle">(k) South-Mid-Sea</text>
<text x="208.4" y="505.6" font-size="8.8" text-anchor="middle">J</text>
<text x="222.4" y="505.6" font-size="8.8" text-anchor="middle">A</text>
<text x="236.3" y="505.6" font-size="8.8" text-anchor="middle">S</text>
<text x="250.3" y="505.6" font-size="8.8" text-anchor="middle">O</text>
<text x="264.3" y="505.6" font-size="8.8" text-anchor="middle">N</text>
<text x="278.2" y="505.6" font-size="8.8" text-anchor="middle">D</text>
<text x="292.2" y="505.6" font-size="8.8" text-anchor="middle">J</text>
<text x="306.1" y="505.6" font-size="8.8" text-anchor="middle">F</text>
<text x="320.1" y="505.6" font-size="8.8" text-anchor="middle">M</text>
<text x="334.1" y="505.6" font-size="8.8" text-anchor="middle">A</text>
<text x="348" y="505.6" font-size="8.8" text-anchor="middle">M</text>
<text x="362" y="505.6" font-size="8.8" text-anchor="middle">J</text>
<g shape-rendering="geometricPrecision">
<rect x="381.4" y="401.9" width="153.6" height="92.4" fill="#000099"/>
<path fill="#0000cc" d="M395.4,401.9 459.6,401.9 463.9,404.9 465.2,406.2 479.1,406.2 493.1,405 501.1,403.4 507.1,401.9 535,401.9 535,494.3 381.4,494.3 381.4,401.9Z"/>
<path fill="#0000ff" d="M395.4,401.9 448.4,401.9 451.2,403.3 456.9,404.9 465.2,409.1 479.1,409.1 493.1,408.3 497.6,407.9 521,404.9 524.8,403.4 529.4,401.9 535,401.9 535,494.3 381.4,494.3 381.4,401.9Z"/>
<path fill="#0033ff" d="M395.4,401.9 441.4,401.9 444.4,403.4 451.2,405.2 454.5,406.4 461.1,409.4 465.2,410.5 479.1,410.5 493.1,409.8 507.1,408.5 521,406.7 535,403.1 535,494.3 381.4,494.3 381.4,401.9Z"/>
<path fill="#0066ff" d="M395.4,401.9 427.9,401.9 437.3,403.3 441.4,404.9 447.3,406.4 451.2,407.1 456.6,409.4 461.2,410.8 465.2,411.7 479.1,411.7 493.1,411 507.1,409.8 521,408 528.6,406.4 535,404.7 535,494.3 381.4,494.3 381.4,401.9Z"/>
<path fill="#0099ff" d="M395.4,401.9 414,401.9 423.3,404.2 437.3,406.4 443.1,407.9 451.2,409 455.9,410.8 461.8,412.3 465.2,412.8 479.1,412.8 493.1,412.1 507.1,411 521,409.3 528.5,407.9 535,406.3 535,494.3 381.4,494.3 381.4,401.9Z"/>
<path fill="#00ccff" d="M395.4,401.9 400.9,401.9 405.2,403.4 409.3,404.3 416.5,406.4 423.3,407.8 437.3,410 451.2,411.2 453.8,412.3 463.3,413.8 465.2,413.9 479.1,413.9 493.1,413.3 507.1,412.1 521,410.6 529.1,409.4 535,407.9 535,494.3 381.4,494.3 381.4,401.9Z"/>
<path fill="#00ffff" d="M395.4,409 400.3,409.4 409.3,409.7 423.3,412.4 432.8,413.8 451.2,414.4 465.2,415.1 479.1,415.1 493.1,414.5 518.1,412.3 533.9,410.8 535,410.5 535,494.3 381.4,494.3 381.4,471.7 388.3,473.4 395.4,474.5 400.6,473.4 409.3,470.9 412.2,471.9 417.4,473.4 423.3,474.5 442.3,471.9 451.2,470 460.9,469 463.2,467.5 463.2,466 461.4,464.5 454.4,463 451.2,462.6 423.3,461.7 409.3,458.9 404.4,455.6 401.3,454.1 395.4,451.7 390.8,454.1 388.5,455.6 386.8,457 385.5,458.5 384.6,460 382.1,466 381.4,467.1 381.4,409.9 387.1,409.4ZM491.9,457 484.5,458.5 479.1,459.9 471.8,461.5 468.5,463 467,464.5 466.3,466 466.1,467.5 466.2,469 467.1,470.5 469.4,471.9 474.1,473.4 479.1,474.5 493.1,476.3 507.1,475.3 510.2,474.9 517.9,473.4 523.6,471.9 527.3,470.5 529,469 529.4,467.5 528.5,466 526.3,464.5 518,461.5 512.2,460 504.6,458.5 493.1,456.8Z"/>
<path fill="#33ffcc" d="M409.3,413.7 415.4,415.3 423.3,416.3 437.3,415.3 465.2,416.4 479.1,416.4 493.1,415.7 507.1,414.7 521,414.1 529.2,415.3 531.4,416.8 533.2,419.8 534.2,422.8 534.6,425.7 534.5,428.7 534.2,431.7 533.1,436.2 532.4,437.7 531.2,439.2 529.1,440.6 525.7,442.1 521,443.6 507.1,444.5 479.1,445.4 465.2,445.4 451.2,444.5 423.3,440.8 413.4,439.2 401,436.2 397.1,434.7 395.4,433.6 391,431.7 388.8,430.2 387.4,428.7 386.6,427.2 386.2,425.7 386.4,424.3 387.2,422.8 388.4,421.3 390.1,419.8 394.5,416.8 395.4,416.3 398.8,415.3ZM395.4,478.8 409.3,478.7 423.3,479.1 437.3,478.7 465.2,478.6 493.1,479.4 535,479.4 535,494.3 381.4,494.3 381.4,478.7Z"/>
<path fill="#66ff99" d="M507.1,416.1 521,416.6 521.5,416.8 522.6,418.3 524.1,421.3 524.5,422.8 524.9,425.7 524.9,427.2 524.1,430.2 522.6,433.2 521,435.3 519.3,436.2 513.1,437.7 507.1,438.7 479.1,439.9 465.2,439.4 447.7,437.7 437.3,436.3 427.8,434.7 416,431.7 411.1,430.2 409.3,428.9 408.5,427.2 408.1,425.7 408.2,424.3 408.8,422.8 409.7,421.3 413,419.8 421.4,418.3 437.3,417.2 451.2,416.9 465.2,417.5 479.1,417.5ZM395.4,480.2 423.3,480.3 465.2,480.2 493.1,480.5 535,480.5 535,494.3 381.4,494.3 381.4,480.2Z"/>
<path fill="#99ff66" d="M493.1,418.1 503.7,418.3 507.1,418.8 508.5,419.8 509.9,421.3 510.9,422.8 511.5,424.3 511.7,425.7 511.6,427.2 510.9,428.7 509.8,430.2 508.2,431.7 507.1,432.6 504.8,433.2 493.1,434.5 479.1,435 465.2,434.5 451.2,433.5 441.2,431.7 437.3,430.7 432.8,428.7 430.1,427.2 429,425.7 430.2,424.3 433.7,422.8 437.3,421.8 439.6,421.3 451.8,419.8 465.2,418.8 479.1,418.8ZM395.4,481.2 423.3,481.4 437.3,481.2 465.2,481.2 493.1,481.6 535,481.6 535,494.3 381.4,494.3 381.4,481.2Z"/>
<path fill="#ccff33" d="M479.1,421.2 493.1,422.3 493.9,422.8 495.7,424.3 496.2,425.7 495.4,427.2 493.1,428.9 480,430.2 478.4,430.2 464,428.7 458.6,427.2 457,425.7 458.7,424.3 462.3,422.8 465.2,421.8ZM395.4,482.3 423.3,482.5 437.3,482.3 465.2,482.3 493.1,482.7 535,482.7 535,494.3 381.4,494.3 381.4,482.3Z"/>
<path fill="#ffff00" d="M395.4,483.4 423.3,483.6 437.3,483.4 465.2,483.4 493.1,483.8 535,483.8 535,494.3 381.4,494.3 381.4,483.4Z"/>
<path fill="#ffcc00" d="M395.4,484.5 423.3,484.7 437.3,484.5 465.2,484.5 493.1,484.8 535,484.8 535,494.3 381.4,494.3 381.4,484.5Z"/>
<path fill="#ff9900" d="M395.4,485.6 423.3,485.8 465.2,485.6 493.1,485.9 535,485.9 535,494.3 381.4,494.3 381.4,485.6Z"/>
<path fill="#ff6600" d="M395.4,486.7 465.2,486.7 493.1,487.1 535,487 535,494.3 381.4,494.3 381.4,486.7Z"/>
<path fill="#ff3300" d="M521,489.3 535,488.5 535,494.3 381.4,494.3 381.4,489.9 507.1,489.9Z"/>
</g>
<rect x="381.4" y="401.9" width="153.6" height="92.4" fill="none" stroke="#1a1a1a" stroke-width="0.8"/>
<path d="M381.4,494.3v-1.6M381.4,401.9v1.6M395.4,494.3v-1.6M395.4,401.9v1.6M409.3,494.3v-1.6M409.3,401.9v1.6M423.3,494.3v-1.6M423.3,401.9v1.6M437.3,494.3v-1.6M437.3,401.9v1.6M451.2,494.3v-1.6M451.2,401.9v1.6M465.2,494.3v-1.6M465.2,401.9v1.6M479.1,494.3v-1.6M479.1,401.9v1.6M493.1,494.3v-1.6M493.1,401.9v1.6M507.1,494.3v-1.6M507.1,401.9v1.6M521,494.3v-1.6M521,401.9v1.6M535,494.3v-1.6M535,401.9v1.6M381.4,407.3h1.6M535,407.3h-1.6M381.4,429.1h1.6M535,429.1h-1.6M381.4,450.8h1.6M535,450.8h-1.6M381.4,472.6h1.6M535,472.6h-1.6M381.4,494.3h1.6M535,494.3h-1.6" stroke="#262626" stroke-width="0.5" fill="none"/>
<text x="458.5" y="398.7" font-size="11.4" text-anchor="middle">(l) South-High-Sea</text>
<text x="381.4" y="505.6" font-size="8.8" text-anchor="middle">J</text>
<text x="395.4" y="505.6" font-size="8.8" text-anchor="middle">A</text>
<text x="409.3" y="505.6" font-size="8.8" text-anchor="middle">S</text>
<text x="423.3" y="505.6" font-size="8.8" text-anchor="middle">O</text>
<text x="437.3" y="505.6" font-size="8.8" text-anchor="middle">N</text>
<text x="451.2" y="505.6" font-size="8.8" text-anchor="middle">D</text>
<text x="465.2" y="505.6" font-size="8.8" text-anchor="middle">J</text>
<text x="479.1" y="505.6" font-size="8.8" text-anchor="middle">F</text>
<text x="493.1" y="505.6" font-size="8.8" text-anchor="middle">M</text>
<text x="507.1" y="505.6" font-size="8.8" text-anchor="middle">A</text>
<text x="521" y="505.6" font-size="8.8" text-anchor="middle">M</text>
<text x="535" y="505.6" font-size="8.8" text-anchor="middle">J</text>
<text x="289.3" y="522.9" font-size="13" text-anchor="middle">Month</text>
</g>
<rect x="63.8" y="528" width="22.6" height="6.3" fill="#000099"/>
<rect x="86.2" y="528" width="22.6" height="6.3" fill="#0000cc"/>
<rect x="108.6" y="528" width="22.6" height="6.3" fill="#0000ff"/>
<rect x="131" y="528" width="22.6" height="6.3" fill="#0033ff"/>
<rect x="153.4" y="528" width="22.6" height="6.3" fill="#0066ff"/>
<rect x="175.8" y="528" width="22.6" height="6.3" fill="#0099ff"/>
<rect x="198.2" y="528" width="22.6" height="6.3" fill="#00ccff"/>
<rect x="220.6" y="528" width="22.6" height="6.3" fill="#00ffff"/>
<rect x="243" y="528" width="22.6" height="6.3" fill="#33ffcc"/>
<rect x="265.4" y="528" width="22.6" height="6.3" fill="#66ff99"/>
<rect x="287.8" y="528" width="22.6" height="6.3" fill="#99ff66"/>
<rect x="310.2" y="528" width="22.6" height="6.3" fill="#ccff33"/>
<rect x="332.6" y="528" width="22.6" height="6.3" fill="#ffff00"/>
<rect x="355" y="528" width="22.6" height="6.3" fill="#ffcc00"/>
<rect x="377.4" y="528" width="22.6" height="6.3" fill="#ff9900"/>
<rect x="399.8" y="528" width="22.6" height="6.3" fill="#ff6600"/>
<rect x="422.2" y="528" width="22.6" height="6.3" fill="#ff3300"/>
<rect x="444.6" y="528" width="22.6" height="6.3" fill="#ff0000"/>
<rect x="467" y="528" width="22.6" height="6.3" fill="#cc0000"/>
<rect x="489.4" y="528" width="22.4" height="6.3" fill="#990000"/>
<g font-family="'Liberation Sans', Arial, sans-serif" font-size="8.9" fill="#262626" text-anchor="middle">
<text x="63.8" y="546.8">0</text>
<text x="86.2" y="546.8">0.05</text>
<text x="108.6" y="546.8">0.1</text>
<text x="131" y="546.8">0.15</text>
<text x="153.4" y="546.8">0.2</text>
<text x="175.8" y="546.8">0.25</text>
<text x="198.2" y="546.8">0.3</text>
<text x="220.6" y="546.8">0.35</text>
<text x="243" y="546.8">0.4</text>
<text x="265.4" y="546.8">0.45</text>
<text x="287.8" y="546.8">0.5</text>
<text x="310.2" y="546.8">0.55</text>
<text x="332.6" y="546.8">0.6</text>
<text x="355" y="546.8">0.65</text>
<text x="377.4" y="546.8">0.7</text>
<text x="399.8" y="546.8">0.75</text>
<text x="422.2" y="546.8">0.8</text>
<text x="444.6" y="546.8">0.85</text>
<text x="467" y="546.8">0.9</text>
<text x="489.4" y="546.8">0.95</text>
<text x="511.8" y="546.8">1</text>
</g>
</svg>
</body></html>
